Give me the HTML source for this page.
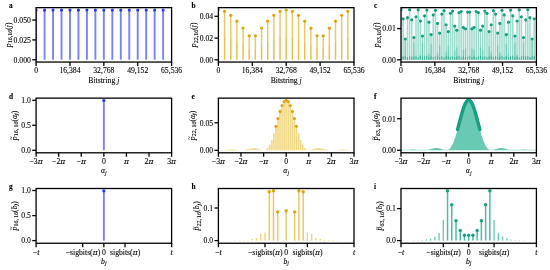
<!DOCTYPE html>
<html><head><meta charset="utf-8"><title>Figure</title>
<style>html,body{margin:0;padding:0;background:#fff;}svg{display:block}text{stroke:#000;stroke-width:0.1px}</style>
</head><body><svg width="550" height="270" viewBox="0 0 550 270" font-family="'Liberation Serif', serif" font-size="7.7" fill="#000">
<line x1="36.10" y1="62.05" x2="36.10" y2="66.00" stroke="#000" stroke-width="1.3"/>
<text x="36.10" y="73.35" text-anchor="middle">0</text>
<line x1="69.97" y1="62.05" x2="69.97" y2="66.00" stroke="#000" stroke-width="1.3"/>
<text x="69.97" y="73.35" text-anchor="middle">16,384</text>
<line x1="103.85" y1="62.05" x2="103.85" y2="66.00" stroke="#000" stroke-width="1.3"/>
<text x="103.85" y="73.35" text-anchor="middle">32,768</text>
<line x1="137.72" y1="62.05" x2="137.72" y2="66.00" stroke="#000" stroke-width="1.3"/>
<text x="137.72" y="73.35" text-anchor="middle">49,152</text>
<line x1="171.60" y1="62.05" x2="171.60" y2="66.00" stroke="#000" stroke-width="1.3"/>
<text x="171.60" y="73.35" text-anchor="middle">65,536</text>
<text x="103.85" y="82.65" text-anchor="middle">Bitstring <tspan font-style="italic">j</tspan></text>
<text x="9.10" y="8.05" font-weight="bold" font-size="7.4">a</text>
<line x1="218.40" y1="62.05" x2="218.40" y2="66.00" stroke="#000" stroke-width="1.3"/>
<text x="218.40" y="73.35" text-anchor="middle">0</text>
<line x1="252.30" y1="62.05" x2="252.30" y2="66.00" stroke="#000" stroke-width="1.3"/>
<text x="252.30" y="73.35" text-anchor="middle">16,384</text>
<line x1="286.20" y1="62.05" x2="286.20" y2="66.00" stroke="#000" stroke-width="1.3"/>
<text x="286.20" y="73.35" text-anchor="middle">32,768</text>
<line x1="320.10" y1="62.05" x2="320.10" y2="66.00" stroke="#000" stroke-width="1.3"/>
<text x="320.10" y="73.35" text-anchor="middle">49,152</text>
<line x1="354.00" y1="62.05" x2="354.00" y2="66.00" stroke="#000" stroke-width="1.3"/>
<text x="354.00" y="73.35" text-anchor="middle">65,536</text>
<text x="286.20" y="82.65" text-anchor="middle">Bitstring <tspan font-style="italic">j</tspan></text>
<text x="191.40" y="8.05" font-weight="bold" font-size="7.4">b</text>
<line x1="401.00" y1="62.05" x2="401.00" y2="66.00" stroke="#000" stroke-width="1.3"/>
<text x="401.00" y="73.35" text-anchor="middle">0</text>
<line x1="434.85" y1="62.05" x2="434.85" y2="66.00" stroke="#000" stroke-width="1.3"/>
<text x="434.85" y="73.35" text-anchor="middle">16,384</text>
<line x1="468.70" y1="62.05" x2="468.70" y2="66.00" stroke="#000" stroke-width="1.3"/>
<text x="468.70" y="73.35" text-anchor="middle">32,768</text>
<line x1="502.55" y1="62.05" x2="502.55" y2="66.00" stroke="#000" stroke-width="1.3"/>
<text x="502.55" y="73.35" text-anchor="middle">49,152</text>
<line x1="536.40" y1="62.05" x2="536.40" y2="66.00" stroke="#000" stroke-width="1.3"/>
<text x="536.40" y="73.35" text-anchor="middle">65,536</text>
<text x="468.70" y="82.65" text-anchor="middle">Bitstring <tspan font-style="italic">j</tspan></text>
<text x="374.00" y="8.05" font-weight="bold" font-size="7.4">c</text>
<clipPath id="ca"><rect x="36.1" y="7.65" width="135.5" height="54.4"/></clipPath><g clip-path="url(#ca)">
<line x1="36.10" y1="10.10" x2="36.10" y2="59.80" stroke="#7a82f8" stroke-width="1.9" stroke-opacity="1.0"/>
<line x1="44.57" y1="10.10" x2="44.57" y2="59.80" stroke="#7a82f8" stroke-width="1.9" stroke-opacity="1.0"/>
<line x1="53.04" y1="10.10" x2="53.04" y2="59.80" stroke="#7a82f8" stroke-width="1.9" stroke-opacity="1.0"/>
<line x1="61.51" y1="10.10" x2="61.51" y2="59.80" stroke="#7a82f8" stroke-width="1.9" stroke-opacity="1.0"/>
<line x1="69.97" y1="10.10" x2="69.97" y2="59.80" stroke="#7a82f8" stroke-width="1.9" stroke-opacity="1.0"/>
<line x1="78.44" y1="10.10" x2="78.44" y2="59.80" stroke="#7a82f8" stroke-width="1.9" stroke-opacity="1.0"/>
<line x1="86.91" y1="10.10" x2="86.91" y2="59.80" stroke="#7a82f8" stroke-width="1.9" stroke-opacity="1.0"/>
<line x1="95.38" y1="10.10" x2="95.38" y2="59.80" stroke="#7a82f8" stroke-width="1.9" stroke-opacity="1.0"/>
<line x1="103.85" y1="10.10" x2="103.85" y2="59.80" stroke="#7a82f8" stroke-width="1.9" stroke-opacity="1.0"/>
<line x1="112.32" y1="10.10" x2="112.32" y2="59.80" stroke="#7a82f8" stroke-width="1.9" stroke-opacity="1.0"/>
<line x1="120.79" y1="10.10" x2="120.79" y2="59.80" stroke="#7a82f8" stroke-width="1.9" stroke-opacity="1.0"/>
<line x1="129.26" y1="10.10" x2="129.26" y2="59.80" stroke="#7a82f8" stroke-width="1.9" stroke-opacity="1.0"/>
<line x1="137.72" y1="10.10" x2="137.72" y2="59.80" stroke="#7a82f8" stroke-width="1.9" stroke-opacity="1.0"/>
<line x1="146.19" y1="10.10" x2="146.19" y2="59.80" stroke="#7a82f8" stroke-width="1.9" stroke-opacity="1.0"/>
<line x1="154.66" y1="10.10" x2="154.66" y2="59.80" stroke="#7a82f8" stroke-width="1.9" stroke-opacity="1.0"/>
<line x1="163.13" y1="10.10" x2="163.13" y2="59.80" stroke="#7a82f8" stroke-width="1.9" stroke-opacity="1.0"/>
<circle cx="36.10" cy="10.10" r="1.55" fill="#2536f5"/>
<circle cx="44.57" cy="10.10" r="1.55" fill="#2536f5"/>
<circle cx="53.04" cy="10.10" r="1.55" fill="#2536f5"/>
<circle cx="61.51" cy="10.10" r="1.55" fill="#2536f5"/>
<circle cx="69.97" cy="10.10" r="1.55" fill="#2536f5"/>
<circle cx="78.44" cy="10.10" r="1.55" fill="#2536f5"/>
<circle cx="86.91" cy="10.10" r="1.55" fill="#2536f5"/>
<circle cx="95.38" cy="10.10" r="1.55" fill="#2536f5"/>
<circle cx="103.85" cy="10.10" r="1.55" fill="#2536f5"/>
<circle cx="112.32" cy="10.10" r="1.55" fill="#2536f5"/>
<circle cx="120.79" cy="10.10" r="1.55" fill="#2536f5"/>
<circle cx="129.26" cy="10.10" r="1.55" fill="#2536f5"/>
<circle cx="137.72" cy="10.10" r="1.55" fill="#2536f5"/>
<circle cx="146.19" cy="10.10" r="1.55" fill="#2536f5"/>
<circle cx="154.66" cy="10.10" r="1.55" fill="#2536f5"/>
<circle cx="163.13" cy="10.10" r="1.55" fill="#2536f5"/>
</g>
<line x1="32.20" y1="59.80" x2="36.1" y2="59.80" stroke="#000" stroke-width="1.3"/>
<text x="30.90" y="62.60" text-anchor="end">0.000</text>
<line x1="32.20" y1="39.92" x2="36.1" y2="39.92" stroke="#000" stroke-width="1.3"/>
<text x="30.90" y="42.72" text-anchor="end">0.025</text>
<line x1="32.20" y1="20.04" x2="36.1" y2="20.04" stroke="#000" stroke-width="1.3"/>
<text x="30.90" y="22.84" text-anchor="end">0.050</text>
<text transform="translate(10.60,34.85) rotate(-90)" text-anchor="middle"><tspan font-style="italic">p</tspan><tspan font-size="6.0" dy="1.6">16,16</tspan><tspan dy="-1.6">(<tspan font-style="italic">j</tspan>)</tspan></text>
<clipPath id="cb"><rect x="218.4" y="7.65" width="135.6" height="54.4"/></clipPath><g clip-path="url(#cb)">
<line x1="218.40" y1="9.50" x2="218.40" y2="59.80" stroke="#ebc861" stroke-width="1.45" stroke-opacity="1.0"/>
<line x1="218.40" y1="37.16" x2="218.40" y2="59.80" stroke="#dba514" stroke-width="1.3" stroke-opacity="0.25"/>
<line x1="224.56" y1="11.30" x2="224.56" y2="59.80" stroke="#ebc861" stroke-width="1.45" stroke-opacity="1.0"/>
<line x1="224.56" y1="37.97" x2="224.56" y2="59.80" stroke="#dba514" stroke-width="1.3" stroke-opacity="0.25"/>
<line x1="230.73" y1="15.30" x2="230.73" y2="59.80" stroke="#ebc861" stroke-width="1.45" stroke-opacity="1.0"/>
<line x1="230.73" y1="39.77" x2="230.73" y2="59.80" stroke="#dba514" stroke-width="1.3" stroke-opacity="0.25"/>
<line x1="236.89" y1="21.20" x2="236.89" y2="59.80" stroke="#ebc861" stroke-width="1.45" stroke-opacity="1.0"/>
<line x1="236.89" y1="42.43" x2="236.89" y2="59.80" stroke="#dba514" stroke-width="1.3" stroke-opacity="0.25"/>
<line x1="243.05" y1="28.00" x2="243.05" y2="59.80" stroke="#ebc861" stroke-width="1.45" stroke-opacity="1.0"/>
<line x1="243.05" y1="45.49" x2="243.05" y2="59.80" stroke="#dba514" stroke-width="1.3" stroke-opacity="0.25"/>
<line x1="249.22" y1="35.80" x2="249.22" y2="59.80" stroke="#ebc861" stroke-width="1.45" stroke-opacity="1.0"/>
<line x1="249.22" y1="49.00" x2="249.22" y2="59.80" stroke="#dba514" stroke-width="1.3" stroke-opacity="0.25"/>
<line x1="255.38" y1="35.80" x2="255.38" y2="59.80" stroke="#ebc861" stroke-width="1.45" stroke-opacity="1.0"/>
<line x1="255.38" y1="49.00" x2="255.38" y2="59.80" stroke="#dba514" stroke-width="1.3" stroke-opacity="0.25"/>
<line x1="261.55" y1="28.00" x2="261.55" y2="59.80" stroke="#ebc861" stroke-width="1.45" stroke-opacity="1.0"/>
<line x1="261.55" y1="45.49" x2="261.55" y2="59.80" stroke="#dba514" stroke-width="1.3" stroke-opacity="0.25"/>
<line x1="267.71" y1="21.20" x2="267.71" y2="59.80" stroke="#ebc861" stroke-width="1.45" stroke-opacity="1.0"/>
<line x1="267.71" y1="42.43" x2="267.71" y2="59.80" stroke="#dba514" stroke-width="1.3" stroke-opacity="0.25"/>
<line x1="273.87" y1="15.30" x2="273.87" y2="59.80" stroke="#ebc861" stroke-width="1.45" stroke-opacity="1.0"/>
<line x1="273.87" y1="39.77" x2="273.87" y2="59.80" stroke="#dba514" stroke-width="1.3" stroke-opacity="0.25"/>
<line x1="280.04" y1="11.30" x2="280.04" y2="59.80" stroke="#ebc861" stroke-width="1.45" stroke-opacity="1.0"/>
<line x1="280.04" y1="37.97" x2="280.04" y2="59.80" stroke="#dba514" stroke-width="1.3" stroke-opacity="0.25"/>
<line x1="286.20" y1="10.00" x2="286.20" y2="59.80" stroke="#ebc861" stroke-width="1.45" stroke-opacity="1.0"/>
<line x1="286.20" y1="37.39" x2="286.20" y2="59.80" stroke="#dba514" stroke-width="1.3" stroke-opacity="0.25"/>
<line x1="292.36" y1="11.30" x2="292.36" y2="59.80" stroke="#ebc861" stroke-width="1.45" stroke-opacity="1.0"/>
<line x1="292.36" y1="37.97" x2="292.36" y2="59.80" stroke="#dba514" stroke-width="1.3" stroke-opacity="0.25"/>
<line x1="298.53" y1="15.30" x2="298.53" y2="59.80" stroke="#ebc861" stroke-width="1.45" stroke-opacity="1.0"/>
<line x1="298.53" y1="39.77" x2="298.53" y2="59.80" stroke="#dba514" stroke-width="1.3" stroke-opacity="0.25"/>
<line x1="304.69" y1="21.20" x2="304.69" y2="59.80" stroke="#ebc861" stroke-width="1.45" stroke-opacity="1.0"/>
<line x1="304.69" y1="42.43" x2="304.69" y2="59.80" stroke="#dba514" stroke-width="1.3" stroke-opacity="0.25"/>
<line x1="310.85" y1="28.20" x2="310.85" y2="59.80" stroke="#ebc861" stroke-width="1.45" stroke-opacity="1.0"/>
<line x1="310.85" y1="45.58" x2="310.85" y2="59.80" stroke="#dba514" stroke-width="1.3" stroke-opacity="0.25"/>
<line x1="317.02" y1="35.80" x2="317.02" y2="59.80" stroke="#ebc861" stroke-width="1.45" stroke-opacity="1.0"/>
<line x1="317.02" y1="49.00" x2="317.02" y2="59.80" stroke="#dba514" stroke-width="1.3" stroke-opacity="0.25"/>
<line x1="323.18" y1="35.80" x2="323.18" y2="59.80" stroke="#ebc861" stroke-width="1.45" stroke-opacity="1.0"/>
<line x1="323.18" y1="49.00" x2="323.18" y2="59.80" stroke="#dba514" stroke-width="1.3" stroke-opacity="0.25"/>
<line x1="329.35" y1="28.20" x2="329.35" y2="59.80" stroke="#ebc861" stroke-width="1.45" stroke-opacity="1.0"/>
<line x1="329.35" y1="45.58" x2="329.35" y2="59.80" stroke="#dba514" stroke-width="1.3" stroke-opacity="0.25"/>
<line x1="335.51" y1="21.20" x2="335.51" y2="59.80" stroke="#ebc861" stroke-width="1.45" stroke-opacity="1.0"/>
<line x1="335.51" y1="42.43" x2="335.51" y2="59.80" stroke="#dba514" stroke-width="1.3" stroke-opacity="0.25"/>
<line x1="341.67" y1="15.30" x2="341.67" y2="59.80" stroke="#ebc861" stroke-width="1.45" stroke-opacity="1.0"/>
<line x1="341.67" y1="39.77" x2="341.67" y2="59.80" stroke="#dba514" stroke-width="1.3" stroke-opacity="0.25"/>
<line x1="347.84" y1="11.30" x2="347.84" y2="59.80" stroke="#ebc861" stroke-width="1.45" stroke-opacity="1.0"/>
<line x1="347.84" y1="37.97" x2="347.84" y2="59.80" stroke="#dba514" stroke-width="1.3" stroke-opacity="0.25"/>
<circle cx="218.40" cy="9.50" r="1.6" fill="#dba514"/>
<circle cx="224.56" cy="11.30" r="1.6" fill="#dba514"/>
<circle cx="230.73" cy="15.30" r="1.6" fill="#dba514"/>
<circle cx="236.89" cy="21.20" r="1.6" fill="#dba514"/>
<circle cx="243.05" cy="28.00" r="1.6" fill="#dba514"/>
<circle cx="249.22" cy="35.80" r="1.6" fill="#dba514"/>
<circle cx="255.38" cy="35.80" r="1.6" fill="#dba514"/>
<circle cx="261.55" cy="28.00" r="1.6" fill="#dba514"/>
<circle cx="267.71" cy="21.20" r="1.6" fill="#dba514"/>
<circle cx="273.87" cy="15.30" r="1.6" fill="#dba514"/>
<circle cx="280.04" cy="11.30" r="1.6" fill="#dba514"/>
<circle cx="286.20" cy="10.00" r="1.6" fill="#dba514"/>
<circle cx="292.36" cy="11.30" r="1.6" fill="#dba514"/>
<circle cx="298.53" cy="15.30" r="1.6" fill="#dba514"/>
<circle cx="304.69" cy="21.20" r="1.6" fill="#dba514"/>
<circle cx="310.85" cy="28.20" r="1.6" fill="#dba514"/>
<circle cx="317.02" cy="35.80" r="1.6" fill="#dba514"/>
<circle cx="323.18" cy="35.80" r="1.6" fill="#dba514"/>
<circle cx="329.35" cy="28.20" r="1.6" fill="#dba514"/>
<circle cx="335.51" cy="21.20" r="1.6" fill="#dba514"/>
<circle cx="341.67" cy="15.30" r="1.6" fill="#dba514"/>
<circle cx="347.84" cy="11.30" r="1.6" fill="#dba514"/>
</g>
<line x1="214.50" y1="59.80" x2="218.4" y2="59.80" stroke="#000" stroke-width="1.3"/>
<text x="213.20" y="62.60" text-anchor="end">0.00</text>
<line x1="214.50" y1="38.10" x2="218.4" y2="38.10" stroke="#000" stroke-width="1.3"/>
<text x="213.20" y="40.90" text-anchor="end">0.02</text>
<line x1="214.50" y1="16.30" x2="218.4" y2="16.30" stroke="#000" stroke-width="1.3"/>
<text x="213.20" y="19.10" text-anchor="end">0.04</text>
<text transform="translate(196.40,34.85) rotate(-90)" text-anchor="middle"><tspan font-style="italic">p</tspan><tspan font-size="6.0" dy="1.6">22,16</tspan><tspan dy="-1.6">(<tspan font-style="italic">j</tspan>)</tspan></text>
<clipPath id="cc"><rect x="401.0" y="7.65" width="135.39999999999998" height="54.4"/></clipPath><g clip-path="url(#cc)">
<line x1="401.00" y1="9.70" x2="401.00" y2="59.80" stroke="#93d9c8" stroke-width="1.55" stroke-opacity="0.9"/>
<line x1="403.15" y1="18.77" x2="403.15" y2="59.80" stroke="#93d9c8" stroke-width="1.55" stroke-opacity="0.9"/>
<line x1="405.30" y1="39.01" x2="405.30" y2="59.80" stroke="#93d9c8" stroke-width="1.55" stroke-opacity="0.9"/>
<line x1="407.45" y1="17.72" x2="407.45" y2="59.80" stroke="#93d9c8" stroke-width="1.55" stroke-opacity="0.9"/>
<line x1="409.60" y1="9.74" x2="409.60" y2="59.80" stroke="#93d9c8" stroke-width="1.55" stroke-opacity="0.9"/>
<line x1="411.75" y1="19.87" x2="411.75" y2="59.80" stroke="#93d9c8" stroke-width="1.55" stroke-opacity="0.9"/>
<line x1="413.90" y1="37.51" x2="413.90" y2="59.80" stroke="#93d9c8" stroke-width="1.55" stroke-opacity="0.9"/>
<line x1="416.04" y1="16.73" x2="416.04" y2="59.80" stroke="#93d9c8" stroke-width="1.55" stroke-opacity="0.9"/>
<line x1="418.19" y1="9.85" x2="418.19" y2="59.80" stroke="#93d9c8" stroke-width="1.55" stroke-opacity="0.9"/>
<line x1="420.34" y1="21.02" x2="420.34" y2="59.80" stroke="#93d9c8" stroke-width="1.55" stroke-opacity="0.9"/>
<line x1="422.49" y1="36.02" x2="422.49" y2="59.80" stroke="#93d9c8" stroke-width="1.55" stroke-opacity="0.9"/>
<line x1="424.64" y1="15.80" x2="424.64" y2="59.80" stroke="#93d9c8" stroke-width="1.55" stroke-opacity="0.9"/>
<line x1="426.79" y1="10.04" x2="426.79" y2="59.80" stroke="#93d9c8" stroke-width="1.55" stroke-opacity="0.9"/>
<line x1="428.94" y1="22.21" x2="428.94" y2="59.80" stroke="#93d9c8" stroke-width="1.55" stroke-opacity="0.9"/>
<line x1="431.09" y1="34.54" x2="431.09" y2="59.80" stroke="#93d9c8" stroke-width="1.55" stroke-opacity="0.9"/>
<line x1="433.24" y1="14.92" x2="433.24" y2="59.80" stroke="#93d9c8" stroke-width="1.55" stroke-opacity="0.9"/>
<line x1="435.39" y1="10.30" x2="435.39" y2="59.80" stroke="#93d9c8" stroke-width="1.55" stroke-opacity="0.9"/>
<line x1="437.54" y1="23.45" x2="437.54" y2="59.80" stroke="#93d9c8" stroke-width="1.55" stroke-opacity="0.9"/>
<line x1="439.69" y1="33.07" x2="439.69" y2="59.80" stroke="#93d9c8" stroke-width="1.55" stroke-opacity="0.9"/>
<line x1="441.83" y1="14.11" x2="441.83" y2="59.80" stroke="#93d9c8" stroke-width="1.55" stroke-opacity="0.9"/>
<line x1="443.98" y1="10.63" x2="443.98" y2="59.80" stroke="#93d9c8" stroke-width="1.55" stroke-opacity="0.9"/>
<line x1="446.13" y1="24.73" x2="446.13" y2="59.80" stroke="#93d9c8" stroke-width="1.55" stroke-opacity="0.9"/>
<line x1="448.28" y1="31.62" x2="448.28" y2="59.80" stroke="#93d9c8" stroke-width="1.55" stroke-opacity="0.9"/>
<line x1="450.43" y1="13.36" x2="450.43" y2="59.80" stroke="#93d9c8" stroke-width="1.55" stroke-opacity="0.9"/>
<line x1="452.58" y1="11.04" x2="452.58" y2="59.80" stroke="#93d9c8" stroke-width="1.55" stroke-opacity="0.9"/>
<line x1="454.73" y1="26.05" x2="454.73" y2="59.80" stroke="#93d9c8" stroke-width="1.55" stroke-opacity="0.9"/>
<line x1="456.88" y1="30.19" x2="456.88" y2="59.80" stroke="#93d9c8" stroke-width="1.55" stroke-opacity="0.9"/>
<line x1="459.03" y1="12.68" x2="459.03" y2="59.80" stroke="#93d9c8" stroke-width="1.55" stroke-opacity="0.9"/>
<line x1="461.18" y1="11.51" x2="461.18" y2="59.80" stroke="#93d9c8" stroke-width="1.55" stroke-opacity="0.9"/>
<line x1="463.33" y1="27.40" x2="463.33" y2="59.80" stroke="#93d9c8" stroke-width="1.55" stroke-opacity="0.9"/>
<line x1="465.48" y1="28.78" x2="465.48" y2="59.80" stroke="#93d9c8" stroke-width="1.55" stroke-opacity="0.9"/>
<line x1="467.63" y1="12.06" x2="467.63" y2="59.80" stroke="#93d9c8" stroke-width="1.55" stroke-opacity="0.9"/>
<line x1="469.77" y1="12.06" x2="469.77" y2="59.80" stroke="#93d9c8" stroke-width="1.55" stroke-opacity="0.9"/>
<line x1="471.92" y1="28.78" x2="471.92" y2="59.80" stroke="#93d9c8" stroke-width="1.55" stroke-opacity="0.9"/>
<line x1="474.07" y1="27.40" x2="474.07" y2="59.80" stroke="#93d9c8" stroke-width="1.55" stroke-opacity="0.9"/>
<line x1="476.22" y1="11.51" x2="476.22" y2="59.80" stroke="#93d9c8" stroke-width="1.55" stroke-opacity="0.9"/>
<line x1="478.37" y1="12.68" x2="478.37" y2="59.80" stroke="#93d9c8" stroke-width="1.55" stroke-opacity="0.9"/>
<line x1="480.52" y1="30.19" x2="480.52" y2="59.80" stroke="#93d9c8" stroke-width="1.55" stroke-opacity="0.9"/>
<line x1="482.67" y1="26.05" x2="482.67" y2="59.80" stroke="#93d9c8" stroke-width="1.55" stroke-opacity="0.9"/>
<line x1="484.82" y1="11.04" x2="484.82" y2="59.80" stroke="#93d9c8" stroke-width="1.55" stroke-opacity="0.9"/>
<line x1="486.97" y1="13.36" x2="486.97" y2="59.80" stroke="#93d9c8" stroke-width="1.55" stroke-opacity="0.9"/>
<line x1="489.12" y1="31.62" x2="489.12" y2="59.80" stroke="#93d9c8" stroke-width="1.55" stroke-opacity="0.9"/>
<line x1="491.27" y1="24.73" x2="491.27" y2="59.80" stroke="#93d9c8" stroke-width="1.55" stroke-opacity="0.9"/>
<line x1="493.42" y1="10.63" x2="493.42" y2="59.80" stroke="#93d9c8" stroke-width="1.55" stroke-opacity="0.9"/>
<line x1="495.57" y1="14.11" x2="495.57" y2="59.80" stroke="#93d9c8" stroke-width="1.55" stroke-opacity="0.9"/>
<line x1="497.71" y1="33.07" x2="497.71" y2="59.80" stroke="#93d9c8" stroke-width="1.55" stroke-opacity="0.9"/>
<line x1="499.86" y1="23.45" x2="499.86" y2="59.80" stroke="#93d9c8" stroke-width="1.55" stroke-opacity="0.9"/>
<line x1="502.01" y1="10.30" x2="502.01" y2="59.80" stroke="#93d9c8" stroke-width="1.55" stroke-opacity="0.9"/>
<line x1="504.16" y1="14.92" x2="504.16" y2="59.80" stroke="#93d9c8" stroke-width="1.55" stroke-opacity="0.9"/>
<line x1="506.31" y1="34.54" x2="506.31" y2="59.80" stroke="#93d9c8" stroke-width="1.55" stroke-opacity="0.9"/>
<line x1="508.46" y1="22.21" x2="508.46" y2="59.80" stroke="#93d9c8" stroke-width="1.55" stroke-opacity="0.9"/>
<line x1="510.61" y1="10.04" x2="510.61" y2="59.80" stroke="#93d9c8" stroke-width="1.55" stroke-opacity="0.9"/>
<line x1="512.76" y1="15.80" x2="512.76" y2="59.80" stroke="#93d9c8" stroke-width="1.55" stroke-opacity="0.9"/>
<line x1="514.91" y1="36.02" x2="514.91" y2="59.80" stroke="#93d9c8" stroke-width="1.55" stroke-opacity="0.9"/>
<line x1="517.06" y1="21.02" x2="517.06" y2="59.80" stroke="#93d9c8" stroke-width="1.55" stroke-opacity="0.9"/>
<line x1="519.21" y1="9.85" x2="519.21" y2="59.80" stroke="#93d9c8" stroke-width="1.55" stroke-opacity="0.9"/>
<line x1="521.36" y1="16.73" x2="521.36" y2="59.80" stroke="#93d9c8" stroke-width="1.55" stroke-opacity="0.9"/>
<line x1="523.50" y1="37.51" x2="523.50" y2="59.80" stroke="#93d9c8" stroke-width="1.55" stroke-opacity="0.9"/>
<line x1="525.65" y1="19.87" x2="525.65" y2="59.80" stroke="#93d9c8" stroke-width="1.55" stroke-opacity="0.9"/>
<line x1="527.80" y1="9.74" x2="527.80" y2="59.80" stroke="#93d9c8" stroke-width="1.55" stroke-opacity="0.9"/>
<line x1="529.95" y1="17.72" x2="529.95" y2="59.80" stroke="#93d9c8" stroke-width="1.55" stroke-opacity="0.9"/>
<line x1="532.10" y1="39.01" x2="532.10" y2="59.80" stroke="#93d9c8" stroke-width="1.55" stroke-opacity="0.9"/>
<line x1="534.25" y1="18.77" x2="534.25" y2="59.80" stroke="#93d9c8" stroke-width="1.55" stroke-opacity="0.9"/>
<line x1="401.00" y1="57.29" x2="401.00" y2="59.80" stroke="#2aa98b" stroke-width="1.2" stroke-opacity="0.75"/>
<line x1="403.15" y1="56.74" x2="403.15" y2="59.80" stroke="#4dbfa5" stroke-width="1.2" stroke-opacity="0.6"/>
<line x1="403.15" y1="56.54" x2="403.15" y2="59.80" stroke="#2aa98b" stroke-width="1.2" stroke-opacity="0.75"/>
<line x1="405.30" y1="41.28" x2="405.30" y2="59.80" stroke="#4dbfa5" stroke-width="1.2" stroke-opacity="0.6"/>
<line x1="405.30" y1="55.79" x2="405.30" y2="59.80" stroke="#2aa98b" stroke-width="1.2" stroke-opacity="0.75"/>
<line x1="407.45" y1="57.77" x2="407.45" y2="59.80" stroke="#4dbfa5" stroke-width="1.2" stroke-opacity="0.6"/>
<line x1="407.45" y1="56.92" x2="407.45" y2="59.80" stroke="#2aa98b" stroke-width="1.2" stroke-opacity="0.75"/>
<line x1="409.60" y1="56.17" x2="409.60" y2="59.80" stroke="#2aa98b" stroke-width="1.2" stroke-opacity="0.75"/>
<line x1="411.75" y1="55.71" x2="411.75" y2="59.80" stroke="#4dbfa5" stroke-width="1.2" stroke-opacity="0.6"/>
<line x1="411.75" y1="57.29" x2="411.75" y2="59.80" stroke="#2aa98b" stroke-width="1.2" stroke-opacity="0.75"/>
<line x1="413.90" y1="42.31" x2="413.90" y2="59.80" stroke="#4dbfa5" stroke-width="1.2" stroke-opacity="0.6"/>
<line x1="413.90" y1="56.54" x2="413.90" y2="59.80" stroke="#2aa98b" stroke-width="1.2" stroke-opacity="0.75"/>
<line x1="416.04" y1="58.80" x2="416.04" y2="59.80" stroke="#4dbfa5" stroke-width="1.2" stroke-opacity="0.6"/>
<line x1="416.04" y1="55.79" x2="416.04" y2="59.80" stroke="#2aa98b" stroke-width="1.2" stroke-opacity="0.75"/>
<line x1="418.19" y1="56.92" x2="418.19" y2="59.80" stroke="#2aa98b" stroke-width="1.2" stroke-opacity="0.75"/>
<line x1="420.34" y1="54.68" x2="420.34" y2="59.80" stroke="#4dbfa5" stroke-width="1.2" stroke-opacity="0.6"/>
<line x1="420.34" y1="56.17" x2="420.34" y2="59.80" stroke="#2aa98b" stroke-width="1.2" stroke-opacity="0.75"/>
<line x1="422.49" y1="43.34" x2="422.49" y2="59.80" stroke="#4dbfa5" stroke-width="1.2" stroke-opacity="0.6"/>
<line x1="422.49" y1="57.29" x2="422.49" y2="59.80" stroke="#2aa98b" stroke-width="1.2" stroke-opacity="0.75"/>
<line x1="424.64" y1="56.54" x2="424.64" y2="59.80" stroke="#2aa98b" stroke-width="1.2" stroke-opacity="0.75"/>
<line x1="426.79" y1="55.79" x2="426.79" y2="59.80" stroke="#2aa98b" stroke-width="1.2" stroke-opacity="0.75"/>
<line x1="428.94" y1="53.64" x2="428.94" y2="59.80" stroke="#4dbfa5" stroke-width="1.2" stroke-opacity="0.6"/>
<line x1="428.94" y1="56.92" x2="428.94" y2="59.80" stroke="#2aa98b" stroke-width="1.2" stroke-opacity="0.75"/>
<line x1="431.09" y1="44.37" x2="431.09" y2="59.80" stroke="#4dbfa5" stroke-width="1.2" stroke-opacity="0.6"/>
<line x1="431.09" y1="56.17" x2="431.09" y2="59.80" stroke="#2aa98b" stroke-width="1.2" stroke-opacity="0.75"/>
<line x1="433.24" y1="57.29" x2="433.24" y2="59.80" stroke="#2aa98b" stroke-width="1.2" stroke-opacity="0.75"/>
<line x1="435.39" y1="56.54" x2="435.39" y2="59.80" stroke="#2aa98b" stroke-width="1.2" stroke-opacity="0.75"/>
<line x1="437.54" y1="52.61" x2="437.54" y2="59.80" stroke="#4dbfa5" stroke-width="1.2" stroke-opacity="0.6"/>
<line x1="437.54" y1="55.79" x2="437.54" y2="59.80" stroke="#2aa98b" stroke-width="1.2" stroke-opacity="0.75"/>
<line x1="439.69" y1="45.40" x2="439.69" y2="59.80" stroke="#4dbfa5" stroke-width="1.2" stroke-opacity="0.6"/>
<line x1="439.69" y1="56.92" x2="439.69" y2="59.80" stroke="#2aa98b" stroke-width="1.2" stroke-opacity="0.75"/>
<line x1="441.83" y1="56.17" x2="441.83" y2="59.80" stroke="#2aa98b" stroke-width="1.2" stroke-opacity="0.75"/>
<line x1="443.98" y1="57.29" x2="443.98" y2="59.80" stroke="#2aa98b" stroke-width="1.2" stroke-opacity="0.75"/>
<line x1="446.13" y1="51.58" x2="446.13" y2="59.80" stroke="#4dbfa5" stroke-width="1.2" stroke-opacity="0.6"/>
<line x1="446.13" y1="56.54" x2="446.13" y2="59.80" stroke="#2aa98b" stroke-width="1.2" stroke-opacity="0.75"/>
<line x1="448.28" y1="46.43" x2="448.28" y2="59.80" stroke="#4dbfa5" stroke-width="1.2" stroke-opacity="0.6"/>
<line x1="448.28" y1="55.79" x2="448.28" y2="59.80" stroke="#2aa98b" stroke-width="1.2" stroke-opacity="0.75"/>
<line x1="450.43" y1="56.92" x2="450.43" y2="59.80" stroke="#2aa98b" stroke-width="1.2" stroke-opacity="0.75"/>
<line x1="452.58" y1="56.17" x2="452.58" y2="59.80" stroke="#2aa98b" stroke-width="1.2" stroke-opacity="0.75"/>
<line x1="454.73" y1="50.55" x2="454.73" y2="59.80" stroke="#4dbfa5" stroke-width="1.2" stroke-opacity="0.6"/>
<line x1="454.73" y1="57.29" x2="454.73" y2="59.80" stroke="#2aa98b" stroke-width="1.2" stroke-opacity="0.75"/>
<line x1="456.88" y1="47.46" x2="456.88" y2="59.80" stroke="#4dbfa5" stroke-width="1.2" stroke-opacity="0.6"/>
<line x1="456.88" y1="56.54" x2="456.88" y2="59.80" stroke="#2aa98b" stroke-width="1.2" stroke-opacity="0.75"/>
<line x1="459.03" y1="55.79" x2="459.03" y2="59.80" stroke="#2aa98b" stroke-width="1.2" stroke-opacity="0.75"/>
<line x1="461.18" y1="56.92" x2="461.18" y2="59.80" stroke="#2aa98b" stroke-width="1.2" stroke-opacity="0.75"/>
<line x1="463.33" y1="49.52" x2="463.33" y2="59.80" stroke="#4dbfa5" stroke-width="1.2" stroke-opacity="0.6"/>
<line x1="463.33" y1="56.17" x2="463.33" y2="59.80" stroke="#2aa98b" stroke-width="1.2" stroke-opacity="0.75"/>
<line x1="465.48" y1="48.49" x2="465.48" y2="59.80" stroke="#4dbfa5" stroke-width="1.2" stroke-opacity="0.6"/>
<line x1="465.48" y1="57.29" x2="465.48" y2="59.80" stroke="#2aa98b" stroke-width="1.2" stroke-opacity="0.75"/>
<line x1="467.63" y1="56.54" x2="467.63" y2="59.80" stroke="#2aa98b" stroke-width="1.2" stroke-opacity="0.75"/>
<line x1="469.77" y1="55.79" x2="469.77" y2="59.80" stroke="#2aa98b" stroke-width="1.2" stroke-opacity="0.75"/>
<line x1="471.92" y1="48.49" x2="471.92" y2="59.80" stroke="#4dbfa5" stroke-width="1.2" stroke-opacity="0.6"/>
<line x1="471.92" y1="56.92" x2="471.92" y2="59.80" stroke="#2aa98b" stroke-width="1.2" stroke-opacity="0.75"/>
<line x1="474.07" y1="49.52" x2="474.07" y2="59.80" stroke="#4dbfa5" stroke-width="1.2" stroke-opacity="0.6"/>
<line x1="474.07" y1="56.17" x2="474.07" y2="59.80" stroke="#2aa98b" stroke-width="1.2" stroke-opacity="0.75"/>
<line x1="476.22" y1="57.29" x2="476.22" y2="59.80" stroke="#2aa98b" stroke-width="1.2" stroke-opacity="0.75"/>
<line x1="478.37" y1="56.54" x2="478.37" y2="59.80" stroke="#2aa98b" stroke-width="1.2" stroke-opacity="0.75"/>
<line x1="480.52" y1="47.46" x2="480.52" y2="59.80" stroke="#4dbfa5" stroke-width="1.2" stroke-opacity="0.6"/>
<line x1="480.52" y1="55.79" x2="480.52" y2="59.80" stroke="#2aa98b" stroke-width="1.2" stroke-opacity="0.75"/>
<line x1="482.67" y1="50.55" x2="482.67" y2="59.80" stroke="#4dbfa5" stroke-width="1.2" stroke-opacity="0.6"/>
<line x1="482.67" y1="56.92" x2="482.67" y2="59.80" stroke="#2aa98b" stroke-width="1.2" stroke-opacity="0.75"/>
<line x1="484.82" y1="56.17" x2="484.82" y2="59.80" stroke="#2aa98b" stroke-width="1.2" stroke-opacity="0.75"/>
<line x1="486.97" y1="57.29" x2="486.97" y2="59.80" stroke="#2aa98b" stroke-width="1.2" stroke-opacity="0.75"/>
<line x1="489.12" y1="46.43" x2="489.12" y2="59.80" stroke="#4dbfa5" stroke-width="1.2" stroke-opacity="0.6"/>
<line x1="489.12" y1="56.54" x2="489.12" y2="59.80" stroke="#2aa98b" stroke-width="1.2" stroke-opacity="0.75"/>
<line x1="491.27" y1="51.58" x2="491.27" y2="59.80" stroke="#4dbfa5" stroke-width="1.2" stroke-opacity="0.6"/>
<line x1="491.27" y1="55.79" x2="491.27" y2="59.80" stroke="#2aa98b" stroke-width="1.2" stroke-opacity="0.75"/>
<line x1="493.42" y1="56.92" x2="493.42" y2="59.80" stroke="#2aa98b" stroke-width="1.2" stroke-opacity="0.75"/>
<line x1="495.57" y1="56.17" x2="495.57" y2="59.80" stroke="#2aa98b" stroke-width="1.2" stroke-opacity="0.75"/>
<line x1="497.71" y1="45.40" x2="497.71" y2="59.80" stroke="#4dbfa5" stroke-width="1.2" stroke-opacity="0.6"/>
<line x1="497.71" y1="57.29" x2="497.71" y2="59.80" stroke="#2aa98b" stroke-width="1.2" stroke-opacity="0.75"/>
<line x1="499.86" y1="52.61" x2="499.86" y2="59.80" stroke="#4dbfa5" stroke-width="1.2" stroke-opacity="0.6"/>
<line x1="499.86" y1="56.54" x2="499.86" y2="59.80" stroke="#2aa98b" stroke-width="1.2" stroke-opacity="0.75"/>
<line x1="502.01" y1="55.79" x2="502.01" y2="59.80" stroke="#2aa98b" stroke-width="1.2" stroke-opacity="0.75"/>
<line x1="504.16" y1="56.92" x2="504.16" y2="59.80" stroke="#2aa98b" stroke-width="1.2" stroke-opacity="0.75"/>
<line x1="506.31" y1="44.37" x2="506.31" y2="59.80" stroke="#4dbfa5" stroke-width="1.2" stroke-opacity="0.6"/>
<line x1="506.31" y1="56.17" x2="506.31" y2="59.80" stroke="#2aa98b" stroke-width="1.2" stroke-opacity="0.75"/>
<line x1="508.46" y1="53.64" x2="508.46" y2="59.80" stroke="#4dbfa5" stroke-width="1.2" stroke-opacity="0.6"/>
<line x1="508.46" y1="57.29" x2="508.46" y2="59.80" stroke="#2aa98b" stroke-width="1.2" stroke-opacity="0.75"/>
<line x1="510.61" y1="56.54" x2="510.61" y2="59.80" stroke="#2aa98b" stroke-width="1.2" stroke-opacity="0.75"/>
<line x1="512.76" y1="55.79" x2="512.76" y2="59.80" stroke="#2aa98b" stroke-width="1.2" stroke-opacity="0.75"/>
<line x1="514.91" y1="43.34" x2="514.91" y2="59.80" stroke="#4dbfa5" stroke-width="1.2" stroke-opacity="0.6"/>
<line x1="514.91" y1="56.92" x2="514.91" y2="59.80" stroke="#2aa98b" stroke-width="1.2" stroke-opacity="0.75"/>
<line x1="517.06" y1="54.68" x2="517.06" y2="59.80" stroke="#4dbfa5" stroke-width="1.2" stroke-opacity="0.6"/>
<line x1="517.06" y1="56.17" x2="517.06" y2="59.80" stroke="#2aa98b" stroke-width="1.2" stroke-opacity="0.75"/>
<line x1="519.21" y1="57.29" x2="519.21" y2="59.80" stroke="#2aa98b" stroke-width="1.2" stroke-opacity="0.75"/>
<line x1="521.36" y1="58.80" x2="521.36" y2="59.80" stroke="#4dbfa5" stroke-width="1.2" stroke-opacity="0.6"/>
<line x1="521.36" y1="56.54" x2="521.36" y2="59.80" stroke="#2aa98b" stroke-width="1.2" stroke-opacity="0.75"/>
<line x1="523.50" y1="42.31" x2="523.50" y2="59.80" stroke="#4dbfa5" stroke-width="1.2" stroke-opacity="0.6"/>
<line x1="523.50" y1="55.79" x2="523.50" y2="59.80" stroke="#2aa98b" stroke-width="1.2" stroke-opacity="0.75"/>
<line x1="525.65" y1="55.71" x2="525.65" y2="59.80" stroke="#4dbfa5" stroke-width="1.2" stroke-opacity="0.6"/>
<line x1="525.65" y1="56.92" x2="525.65" y2="59.80" stroke="#2aa98b" stroke-width="1.2" stroke-opacity="0.75"/>
<line x1="527.80" y1="56.17" x2="527.80" y2="59.80" stroke="#2aa98b" stroke-width="1.2" stroke-opacity="0.75"/>
<line x1="529.95" y1="57.77" x2="529.95" y2="59.80" stroke="#4dbfa5" stroke-width="1.2" stroke-opacity="0.6"/>
<line x1="529.95" y1="57.29" x2="529.95" y2="59.80" stroke="#2aa98b" stroke-width="1.2" stroke-opacity="0.75"/>
<line x1="532.10" y1="41.28" x2="532.10" y2="59.80" stroke="#4dbfa5" stroke-width="1.2" stroke-opacity="0.6"/>
<line x1="532.10" y1="56.54" x2="532.10" y2="59.80" stroke="#2aa98b" stroke-width="1.2" stroke-opacity="0.75"/>
<line x1="534.25" y1="56.74" x2="534.25" y2="59.80" stroke="#4dbfa5" stroke-width="1.2" stroke-opacity="0.6"/>
<line x1="534.25" y1="55.79" x2="534.25" y2="59.80" stroke="#2aa98b" stroke-width="1.2" stroke-opacity="0.75"/>
<circle cx="401.00" cy="9.70" r="1.6" fill="#1a9e80"/>
<circle cx="403.15" cy="18.77" r="1.6" fill="#1a9e80"/>
<circle cx="405.30" cy="39.01" r="1.6" fill="#1a9e80"/>
<circle cx="407.45" cy="17.72" r="1.6" fill="#1a9e80"/>
<circle cx="409.60" cy="9.74" r="1.6" fill="#1a9e80"/>
<circle cx="411.75" cy="19.87" r="1.6" fill="#1a9e80"/>
<circle cx="413.90" cy="37.51" r="1.6" fill="#1a9e80"/>
<circle cx="416.04" cy="16.73" r="1.6" fill="#1a9e80"/>
<circle cx="418.19" cy="9.85" r="1.6" fill="#1a9e80"/>
<circle cx="420.34" cy="21.02" r="1.6" fill="#1a9e80"/>
<circle cx="422.49" cy="36.02" r="1.6" fill="#1a9e80"/>
<circle cx="424.64" cy="15.80" r="1.6" fill="#1a9e80"/>
<circle cx="426.79" cy="10.04" r="1.6" fill="#1a9e80"/>
<circle cx="428.94" cy="22.21" r="1.6" fill="#1a9e80"/>
<circle cx="431.09" cy="34.54" r="1.6" fill="#1a9e80"/>
<circle cx="433.24" cy="14.92" r="1.6" fill="#1a9e80"/>
<circle cx="435.39" cy="10.30" r="1.6" fill="#1a9e80"/>
<circle cx="437.54" cy="23.45" r="1.6" fill="#1a9e80"/>
<circle cx="439.69" cy="33.07" r="1.6" fill="#1a9e80"/>
<circle cx="441.83" cy="14.11" r="1.6" fill="#1a9e80"/>
<circle cx="443.98" cy="10.63" r="1.6" fill="#1a9e80"/>
<circle cx="446.13" cy="24.73" r="1.6" fill="#1a9e80"/>
<circle cx="448.28" cy="31.62" r="1.6" fill="#1a9e80"/>
<circle cx="450.43" cy="13.36" r="1.6" fill="#1a9e80"/>
<circle cx="452.58" cy="11.04" r="1.6" fill="#1a9e80"/>
<circle cx="454.73" cy="26.05" r="1.6" fill="#1a9e80"/>
<circle cx="456.88" cy="30.19" r="1.6" fill="#1a9e80"/>
<circle cx="459.03" cy="12.68" r="1.6" fill="#1a9e80"/>
<circle cx="461.18" cy="11.51" r="1.6" fill="#1a9e80"/>
<circle cx="463.33" cy="27.40" r="1.6" fill="#1a9e80"/>
<circle cx="465.48" cy="28.78" r="1.6" fill="#1a9e80"/>
<circle cx="467.63" cy="12.06" r="1.6" fill="#1a9e80"/>
<circle cx="469.77" cy="12.06" r="1.6" fill="#1a9e80"/>
<circle cx="471.92" cy="28.78" r="1.6" fill="#1a9e80"/>
<circle cx="474.07" cy="27.40" r="1.6" fill="#1a9e80"/>
<circle cx="476.22" cy="11.51" r="1.6" fill="#1a9e80"/>
<circle cx="478.37" cy="12.68" r="1.6" fill="#1a9e80"/>
<circle cx="480.52" cy="30.19" r="1.6" fill="#1a9e80"/>
<circle cx="482.67" cy="26.05" r="1.6" fill="#1a9e80"/>
<circle cx="484.82" cy="11.04" r="1.6" fill="#1a9e80"/>
<circle cx="486.97" cy="13.36" r="1.6" fill="#1a9e80"/>
<circle cx="489.12" cy="31.62" r="1.6" fill="#1a9e80"/>
<circle cx="491.27" cy="24.73" r="1.6" fill="#1a9e80"/>
<circle cx="493.42" cy="10.63" r="1.6" fill="#1a9e80"/>
<circle cx="495.57" cy="14.11" r="1.6" fill="#1a9e80"/>
<circle cx="497.71" cy="33.07" r="1.6" fill="#1a9e80"/>
<circle cx="499.86" cy="23.45" r="1.6" fill="#1a9e80"/>
<circle cx="502.01" cy="10.30" r="1.6" fill="#1a9e80"/>
<circle cx="504.16" cy="14.92" r="1.6" fill="#1a9e80"/>
<circle cx="506.31" cy="34.54" r="1.6" fill="#1a9e80"/>
<circle cx="508.46" cy="22.21" r="1.6" fill="#1a9e80"/>
<circle cx="510.61" cy="10.04" r="1.6" fill="#1a9e80"/>
<circle cx="512.76" cy="15.80" r="1.6" fill="#1a9e80"/>
<circle cx="514.91" cy="36.02" r="1.6" fill="#1a9e80"/>
<circle cx="517.06" cy="21.02" r="1.6" fill="#1a9e80"/>
<circle cx="519.21" cy="9.85" r="1.6" fill="#1a9e80"/>
<circle cx="521.36" cy="16.73" r="1.6" fill="#1a9e80"/>
<circle cx="523.50" cy="37.51" r="1.6" fill="#1a9e80"/>
<circle cx="525.65" cy="19.87" r="1.6" fill="#1a9e80"/>
<circle cx="527.80" cy="9.74" r="1.6" fill="#1a9e80"/>
<circle cx="529.95" cy="17.72" r="1.6" fill="#1a9e80"/>
<circle cx="532.10" cy="39.01" r="1.6" fill="#1a9e80"/>
<circle cx="534.25" cy="18.77" r="1.6" fill="#1a9e80"/>
</g>
<line x1="397.10" y1="59.80" x2="401.0" y2="59.80" stroke="#000" stroke-width="1.3"/>
<text x="395.80" y="62.60" text-anchor="end">0.00</text>
<line x1="397.10" y1="28.60" x2="401.0" y2="28.60" stroke="#000" stroke-width="1.3"/>
<text x="395.80" y="31.40" text-anchor="end">0.01</text>
<text transform="translate(379.40,34.85) rotate(-90)" text-anchor="middle"><tspan font-style="italic">p</tspan><tspan font-size="6.0" dy="1.6">63,16</tspan><tspan dy="-1.6">(<tspan font-style="italic">j</tspan>)</tspan></text>
<line x1="36.10" y1="152.8" x2="36.10" y2="156.75" stroke="#000" stroke-width="1.3"/>
<text x="36.10" y="164.10" text-anchor="middle">−3<tspan font-style="italic" font-family="DejaVu Serif, serif" font-size="7.6">π</tspan></text>
<line x1="58.68" y1="152.8" x2="58.68" y2="156.75" stroke="#000" stroke-width="1.3"/>
<text x="58.68" y="164.10" text-anchor="middle">−2<tspan font-style="italic" font-family="DejaVu Serif, serif" font-size="7.6">π</tspan></text>
<line x1="81.27" y1="152.8" x2="81.27" y2="156.75" stroke="#000" stroke-width="1.3"/>
<text x="81.27" y="164.10" text-anchor="middle">−<tspan font-style="italic" font-family="DejaVu Serif, serif" font-size="7.6">π</tspan></text>
<line x1="103.85" y1="152.8" x2="103.85" y2="156.75" stroke="#000" stroke-width="1.3"/>
<text x="103.85" y="164.10" text-anchor="middle">0</text>
<line x1="126.43" y1="152.8" x2="126.43" y2="156.75" stroke="#000" stroke-width="1.3"/>
<text x="126.43" y="164.10" text-anchor="middle"><tspan font-style="italic" font-family="DejaVu Serif, serif" font-size="7.6">π</tspan></text>
<line x1="149.02" y1="152.8" x2="149.02" y2="156.75" stroke="#000" stroke-width="1.3"/>
<text x="149.02" y="164.10" text-anchor="middle">2<tspan font-style="italic" font-family="DejaVu Serif, serif" font-size="7.6">π</tspan></text>
<line x1="171.60" y1="152.8" x2="171.60" y2="156.75" stroke="#000" stroke-width="1.3"/>
<text x="171.60" y="164.10" text-anchor="middle">3<tspan font-style="italic" font-family="DejaVu Serif, serif" font-size="7.6">π</tspan></text>
<text x="103.85" y="173.40" text-anchor="middle"><tspan font-style="italic">α</tspan><tspan font-style="italic" font-size="6.0" dy="1.6">j</tspan></text>
<text x="9.10" y="98.55" font-weight="bold" font-size="7.4">d</text>
<line x1="218.40" y1="152.8" x2="218.40" y2="156.75" stroke="#000" stroke-width="1.3"/>
<text x="218.40" y="164.10" text-anchor="middle">−3<tspan font-style="italic" font-family="DejaVu Serif, serif" font-size="7.6">π</tspan></text>
<line x1="241.00" y1="152.8" x2="241.00" y2="156.75" stroke="#000" stroke-width="1.3"/>
<text x="241.00" y="164.10" text-anchor="middle">−2<tspan font-style="italic" font-family="DejaVu Serif, serif" font-size="7.6">π</tspan></text>
<line x1="263.60" y1="152.8" x2="263.60" y2="156.75" stroke="#000" stroke-width="1.3"/>
<text x="263.60" y="164.10" text-anchor="middle">−<tspan font-style="italic" font-family="DejaVu Serif, serif" font-size="7.6">π</tspan></text>
<line x1="286.20" y1="152.8" x2="286.20" y2="156.75" stroke="#000" stroke-width="1.3"/>
<text x="286.20" y="164.10" text-anchor="middle">0</text>
<line x1="308.80" y1="152.8" x2="308.80" y2="156.75" stroke="#000" stroke-width="1.3"/>
<text x="308.80" y="164.10" text-anchor="middle"><tspan font-style="italic" font-family="DejaVu Serif, serif" font-size="7.6">π</tspan></text>
<line x1="331.40" y1="152.8" x2="331.40" y2="156.75" stroke="#000" stroke-width="1.3"/>
<text x="331.40" y="164.10" text-anchor="middle">2<tspan font-style="italic" font-family="DejaVu Serif, serif" font-size="7.6">π</tspan></text>
<line x1="354.00" y1="152.8" x2="354.00" y2="156.75" stroke="#000" stroke-width="1.3"/>
<text x="354.00" y="164.10" text-anchor="middle">3<tspan font-style="italic" font-family="DejaVu Serif, serif" font-size="7.6">π</tspan></text>
<text x="286.20" y="173.40" text-anchor="middle"><tspan font-style="italic">α</tspan><tspan font-style="italic" font-size="6.0" dy="1.6">j</tspan></text>
<text x="191.40" y="98.55" font-weight="bold" font-size="7.4">e</text>
<line x1="401.00" y1="152.8" x2="401.00" y2="156.75" stroke="#000" stroke-width="1.3"/>
<text x="401.00" y="164.10" text-anchor="middle">−3<tspan font-style="italic" font-family="DejaVu Serif, serif" font-size="7.6">π</tspan></text>
<line x1="423.57" y1="152.8" x2="423.57" y2="156.75" stroke="#000" stroke-width="1.3"/>
<text x="423.57" y="164.10" text-anchor="middle">−2<tspan font-style="italic" font-family="DejaVu Serif, serif" font-size="7.6">π</tspan></text>
<line x1="446.13" y1="152.8" x2="446.13" y2="156.75" stroke="#000" stroke-width="1.3"/>
<text x="446.13" y="164.10" text-anchor="middle">−<tspan font-style="italic" font-family="DejaVu Serif, serif" font-size="7.6">π</tspan></text>
<line x1="468.70" y1="152.8" x2="468.70" y2="156.75" stroke="#000" stroke-width="1.3"/>
<text x="468.70" y="164.10" text-anchor="middle">0</text>
<line x1="491.27" y1="152.8" x2="491.27" y2="156.75" stroke="#000" stroke-width="1.3"/>
<text x="491.27" y="164.10" text-anchor="middle"><tspan font-style="italic" font-family="DejaVu Serif, serif" font-size="7.6">π</tspan></text>
<line x1="513.83" y1="152.8" x2="513.83" y2="156.75" stroke="#000" stroke-width="1.3"/>
<text x="513.83" y="164.10" text-anchor="middle">2<tspan font-style="italic" font-family="DejaVu Serif, serif" font-size="7.6">π</tspan></text>
<line x1="536.40" y1="152.8" x2="536.40" y2="156.75" stroke="#000" stroke-width="1.3"/>
<text x="536.40" y="164.10" text-anchor="middle">3<tspan font-style="italic" font-family="DejaVu Serif, serif" font-size="7.6">π</tspan></text>
<text x="468.70" y="173.40" text-anchor="middle"><tspan font-style="italic">α</tspan><tspan font-style="italic" font-size="6.0" dy="1.6">j</tspan></text>
<text x="374.00" y="98.55" font-weight="bold" font-size="7.4">f</text>
<line x1="103.85" y1="100.50" x2="103.85" y2="150.30" stroke="#7a82f8" stroke-width="1.9" stroke-opacity="1.0"/>
<circle cx="103.85" cy="100.50" r="1.6" fill="#2536f5"/>
<line x1="32.20" y1="150.30" x2="36.1" y2="150.30" stroke="#000" stroke-width="1.3"/>
<text x="30.90" y="153.10" text-anchor="end">0.0</text>
<line x1="32.20" y1="125.30" x2="36.1" y2="125.30" stroke="#000" stroke-width="1.3"/>
<text x="30.90" y="128.10" text-anchor="end">0.5</text>
<line x1="32.20" y1="100.30" x2="36.1" y2="100.30" stroke="#000" stroke-width="1.3"/>
<text x="30.90" y="103.10" text-anchor="end">1.0</text>
<text transform="translate(16.80,125.48) rotate(-90)" text-anchor="middle"><tspan font-style="italic">p</tspan><tspan font-size="6" dx="-3.3" dy="-3.4">~</tspan><tspan font-size="6.0" dx="0.1" dy="5.0">16, 16</tspan><tspan dy="-1.6">(</tspan><tspan font-style="italic">α</tspan><tspan font-style="italic" font-size="6.0" dy="1.4">j</tspan><tspan dy="-1.4">​</tspan><tspan>)</tspan></text>
<clipPath id="ce"><rect x="218.4" y="98.15" width="135.6" height="54.650000000000006"/></clipPath><g clip-path="url(#ce)">
<line x1="222.51" y1="150.11" x2="222.51" y2="150.30" stroke="#f8e8b2" stroke-width="2.1" stroke-opacity="1"/>
<line x1="222.51" y1="150.11" x2="222.51" y2="150.30" stroke="#f2d987" stroke-width="1.15" stroke-opacity="1"/>
<line x1="224.56" y1="149.91" x2="224.56" y2="150.30" stroke="#f8e8b2" stroke-width="2.1" stroke-opacity="1"/>
<line x1="224.56" y1="149.91" x2="224.56" y2="150.30" stroke="#f2d987" stroke-width="1.15" stroke-opacity="1"/>
<line x1="226.62" y1="149.70" x2="226.62" y2="150.30" stroke="#f8e8b2" stroke-width="2.1" stroke-opacity="1"/>
<line x1="226.62" y1="149.70" x2="226.62" y2="150.30" stroke="#f2d987" stroke-width="1.15" stroke-opacity="1"/>
<line x1="228.67" y1="149.53" x2="228.67" y2="150.30" stroke="#f8e8b2" stroke-width="2.1" stroke-opacity="1"/>
<line x1="228.67" y1="149.53" x2="228.67" y2="150.30" stroke="#f2d987" stroke-width="1.15" stroke-opacity="1"/>
<line x1="230.73" y1="149.48" x2="230.73" y2="150.30" stroke="#f8e8b2" stroke-width="2.1" stroke-opacity="1"/>
<line x1="230.73" y1="149.48" x2="230.73" y2="150.30" stroke="#f2d987" stroke-width="1.15" stroke-opacity="1"/>
<line x1="232.78" y1="149.55" x2="232.78" y2="150.30" stroke="#f8e8b2" stroke-width="2.1" stroke-opacity="1"/>
<line x1="232.78" y1="149.55" x2="232.78" y2="150.30" stroke="#f2d987" stroke-width="1.15" stroke-opacity="1"/>
<line x1="234.84" y1="149.74" x2="234.84" y2="150.30" stroke="#f8e8b2" stroke-width="2.1" stroke-opacity="1"/>
<line x1="234.84" y1="149.74" x2="234.84" y2="150.30" stroke="#f2d987" stroke-width="1.15" stroke-opacity="1"/>
<line x1="236.89" y1="149.99" x2="236.89" y2="150.30" stroke="#f8e8b2" stroke-width="2.1" stroke-opacity="1"/>
<line x1="236.89" y1="149.99" x2="236.89" y2="150.30" stroke="#f2d987" stroke-width="1.15" stroke-opacity="1"/>
<line x1="245.11" y1="149.85" x2="245.11" y2="150.30" stroke="#f8e8b2" stroke-width="2.1" stroke-opacity="1"/>
<line x1="245.11" y1="149.85" x2="245.11" y2="150.30" stroke="#f2d987" stroke-width="1.15" stroke-opacity="1"/>
<line x1="247.16" y1="149.33" x2="247.16" y2="150.30" stroke="#f8e8b2" stroke-width="2.1" stroke-opacity="1"/>
<line x1="247.16" y1="149.33" x2="247.16" y2="150.30" stroke="#f2d987" stroke-width="1.15" stroke-opacity="1"/>
<line x1="249.22" y1="148.73" x2="249.22" y2="150.30" stroke="#f8e8b2" stroke-width="2.1" stroke-opacity="1"/>
<line x1="249.22" y1="148.73" x2="249.22" y2="150.30" stroke="#f2d987" stroke-width="1.15" stroke-opacity="1"/>
<line x1="251.27" y1="148.22" x2="251.27" y2="150.30" stroke="#f8e8b2" stroke-width="2.1" stroke-opacity="1"/>
<line x1="251.27" y1="148.22" x2="251.27" y2="150.30" stroke="#f2d987" stroke-width="1.15" stroke-opacity="1"/>
<line x1="253.33" y1="147.95" x2="253.33" y2="150.30" stroke="#f8e8b2" stroke-width="2.1" stroke-opacity="1"/>
<line x1="253.33" y1="147.95" x2="253.33" y2="150.30" stroke="#f2d987" stroke-width="1.15" stroke-opacity="1"/>
<line x1="255.38" y1="148.05" x2="255.38" y2="150.30" stroke="#f8e8b2" stroke-width="2.1" stroke-opacity="1"/>
<line x1="255.38" y1="148.05" x2="255.38" y2="150.30" stroke="#f2d987" stroke-width="1.15" stroke-opacity="1"/>
<line x1="257.44" y1="148.51" x2="257.44" y2="150.30" stroke="#f8e8b2" stroke-width="2.1" stroke-opacity="1"/>
<line x1="257.44" y1="148.51" x2="257.44" y2="150.30" stroke="#f2d987" stroke-width="1.15" stroke-opacity="1"/>
<line x1="259.49" y1="149.24" x2="259.49" y2="150.30" stroke="#f8e8b2" stroke-width="2.1" stroke-opacity="1"/>
<line x1="259.49" y1="149.24" x2="259.49" y2="150.30" stroke="#f2d987" stroke-width="1.15" stroke-opacity="1"/>
<line x1="261.55" y1="149.96" x2="261.55" y2="150.30" stroke="#f8e8b2" stroke-width="2.1" stroke-opacity="1"/>
<line x1="261.55" y1="149.96" x2="261.55" y2="150.30" stroke="#f2d987" stroke-width="1.15" stroke-opacity="1"/>
<line x1="265.65" y1="149.81" x2="265.65" y2="150.30" stroke="#f8e8b2" stroke-width="2.1" stroke-opacity="1"/>
<line x1="265.65" y1="149.81" x2="265.65" y2="150.30" stroke="#f2d987" stroke-width="1.15" stroke-opacity="1"/>
<line x1="267.71" y1="148.09" x2="267.71" y2="150.30" stroke="#f8e8b2" stroke-width="2.1" stroke-opacity="1"/>
<line x1="267.71" y1="148.09" x2="267.71" y2="150.30" stroke="#f2d987" stroke-width="1.15" stroke-opacity="1"/>
<line x1="269.76" y1="144.83" x2="269.76" y2="150.30" stroke="#f8e8b2" stroke-width="2.1" stroke-opacity="1"/>
<line x1="269.76" y1="144.83" x2="269.76" y2="150.30" stroke="#f2d987" stroke-width="1.15" stroke-opacity="1"/>
<line x1="271.82" y1="139.95" x2="271.82" y2="150.30" stroke="#f8e8b2" stroke-width="2.1" stroke-opacity="1"/>
<line x1="271.82" y1="139.95" x2="271.82" y2="150.30" stroke="#f2d987" stroke-width="1.15" stroke-opacity="1"/>
<line x1="273.87" y1="133.62" x2="273.87" y2="150.30" stroke="#f8e8b2" stroke-width="2.1" stroke-opacity="1"/>
<line x1="273.87" y1="133.62" x2="273.87" y2="150.30" stroke="#f2d987" stroke-width="1.15" stroke-opacity="1"/>
<line x1="275.93" y1="126.28" x2="275.93" y2="150.30" stroke="#f8e8b2" stroke-width="2.1" stroke-opacity="1"/>
<line x1="275.93" y1="126.28" x2="275.93" y2="150.30" stroke="#f2d987" stroke-width="1.15" stroke-opacity="1"/>
<line x1="277.98" y1="118.60" x2="277.98" y2="150.30" stroke="#f8e8b2" stroke-width="2.1" stroke-opacity="1"/>
<line x1="277.98" y1="118.60" x2="277.98" y2="150.30" stroke="#f2d987" stroke-width="1.15" stroke-opacity="1"/>
<line x1="280.04" y1="111.40" x2="280.04" y2="150.30" stroke="#f8e8b2" stroke-width="2.1" stroke-opacity="1"/>
<line x1="280.04" y1="111.40" x2="280.04" y2="150.30" stroke="#f2d987" stroke-width="1.15" stroke-opacity="1"/>
<line x1="282.09" y1="105.51" x2="282.09" y2="150.30" stroke="#f8e8b2" stroke-width="2.1" stroke-opacity="1"/>
<line x1="282.09" y1="105.51" x2="282.09" y2="150.30" stroke="#f2d987" stroke-width="1.15" stroke-opacity="1"/>
<line x1="284.15" y1="101.64" x2="284.15" y2="150.30" stroke="#f8e8b2" stroke-width="2.1" stroke-opacity="1"/>
<line x1="284.15" y1="101.64" x2="284.15" y2="150.30" stroke="#f2d987" stroke-width="1.15" stroke-opacity="1"/>
<line x1="286.20" y1="100.30" x2="286.20" y2="150.30" stroke="#f8e8b2" stroke-width="2.1" stroke-opacity="1"/>
<line x1="286.20" y1="100.30" x2="286.20" y2="150.30" stroke="#f2d987" stroke-width="1.15" stroke-opacity="1"/>
<line x1="288.25" y1="101.64" x2="288.25" y2="150.30" stroke="#f8e8b2" stroke-width="2.1" stroke-opacity="1"/>
<line x1="288.25" y1="101.64" x2="288.25" y2="150.30" stroke="#f2d987" stroke-width="1.15" stroke-opacity="1"/>
<line x1="290.31" y1="105.51" x2="290.31" y2="150.30" stroke="#f8e8b2" stroke-width="2.1" stroke-opacity="1"/>
<line x1="290.31" y1="105.51" x2="290.31" y2="150.30" stroke="#f2d987" stroke-width="1.15" stroke-opacity="1"/>
<line x1="292.36" y1="111.40" x2="292.36" y2="150.30" stroke="#f8e8b2" stroke-width="2.1" stroke-opacity="1"/>
<line x1="292.36" y1="111.40" x2="292.36" y2="150.30" stroke="#f2d987" stroke-width="1.15" stroke-opacity="1"/>
<line x1="294.42" y1="118.60" x2="294.42" y2="150.30" stroke="#f8e8b2" stroke-width="2.1" stroke-opacity="1"/>
<line x1="294.42" y1="118.60" x2="294.42" y2="150.30" stroke="#f2d987" stroke-width="1.15" stroke-opacity="1"/>
<line x1="296.47" y1="126.28" x2="296.47" y2="150.30" stroke="#f8e8b2" stroke-width="2.1" stroke-opacity="1"/>
<line x1="296.47" y1="126.28" x2="296.47" y2="150.30" stroke="#f2d987" stroke-width="1.15" stroke-opacity="1"/>
<line x1="298.53" y1="133.62" x2="298.53" y2="150.30" stroke="#f8e8b2" stroke-width="2.1" stroke-opacity="1"/>
<line x1="298.53" y1="133.62" x2="298.53" y2="150.30" stroke="#f2d987" stroke-width="1.15" stroke-opacity="1"/>
<line x1="300.58" y1="139.95" x2="300.58" y2="150.30" stroke="#f8e8b2" stroke-width="2.1" stroke-opacity="1"/>
<line x1="300.58" y1="139.95" x2="300.58" y2="150.30" stroke="#f2d987" stroke-width="1.15" stroke-opacity="1"/>
<line x1="302.64" y1="144.83" x2="302.64" y2="150.30" stroke="#f8e8b2" stroke-width="2.1" stroke-opacity="1"/>
<line x1="302.64" y1="144.83" x2="302.64" y2="150.30" stroke="#f2d987" stroke-width="1.15" stroke-opacity="1"/>
<line x1="304.69" y1="148.09" x2="304.69" y2="150.30" stroke="#f8e8b2" stroke-width="2.1" stroke-opacity="1"/>
<line x1="304.69" y1="148.09" x2="304.69" y2="150.30" stroke="#f2d987" stroke-width="1.15" stroke-opacity="1"/>
<line x1="306.75" y1="149.81" x2="306.75" y2="150.30" stroke="#f8e8b2" stroke-width="2.1" stroke-opacity="1"/>
<line x1="306.75" y1="149.81" x2="306.75" y2="150.30" stroke="#f2d987" stroke-width="1.15" stroke-opacity="1"/>
<line x1="310.85" y1="149.96" x2="310.85" y2="150.30" stroke="#f8e8b2" stroke-width="2.1" stroke-opacity="1"/>
<line x1="310.85" y1="149.96" x2="310.85" y2="150.30" stroke="#f2d987" stroke-width="1.15" stroke-opacity="1"/>
<line x1="312.91" y1="149.24" x2="312.91" y2="150.30" stroke="#f8e8b2" stroke-width="2.1" stroke-opacity="1"/>
<line x1="312.91" y1="149.24" x2="312.91" y2="150.30" stroke="#f2d987" stroke-width="1.15" stroke-opacity="1"/>
<line x1="314.96" y1="148.51" x2="314.96" y2="150.30" stroke="#f8e8b2" stroke-width="2.1" stroke-opacity="1"/>
<line x1="314.96" y1="148.51" x2="314.96" y2="150.30" stroke="#f2d987" stroke-width="1.15" stroke-opacity="1"/>
<line x1="317.02" y1="148.05" x2="317.02" y2="150.30" stroke="#f8e8b2" stroke-width="2.1" stroke-opacity="1"/>
<line x1="317.02" y1="148.05" x2="317.02" y2="150.30" stroke="#f2d987" stroke-width="1.15" stroke-opacity="1"/>
<line x1="319.07" y1="147.95" x2="319.07" y2="150.30" stroke="#f8e8b2" stroke-width="2.1" stroke-opacity="1"/>
<line x1="319.07" y1="147.95" x2="319.07" y2="150.30" stroke="#f2d987" stroke-width="1.15" stroke-opacity="1"/>
<line x1="321.13" y1="148.22" x2="321.13" y2="150.30" stroke="#f8e8b2" stroke-width="2.1" stroke-opacity="1"/>
<line x1="321.13" y1="148.22" x2="321.13" y2="150.30" stroke="#f2d987" stroke-width="1.15" stroke-opacity="1"/>
<line x1="323.18" y1="148.73" x2="323.18" y2="150.30" stroke="#f8e8b2" stroke-width="2.1" stroke-opacity="1"/>
<line x1="323.18" y1="148.73" x2="323.18" y2="150.30" stroke="#f2d987" stroke-width="1.15" stroke-opacity="1"/>
<line x1="325.24" y1="149.33" x2="325.24" y2="150.30" stroke="#f8e8b2" stroke-width="2.1" stroke-opacity="1"/>
<line x1="325.24" y1="149.33" x2="325.24" y2="150.30" stroke="#f2d987" stroke-width="1.15" stroke-opacity="1"/>
<line x1="327.29" y1="149.85" x2="327.29" y2="150.30" stroke="#f8e8b2" stroke-width="2.1" stroke-opacity="1"/>
<line x1="327.29" y1="149.85" x2="327.29" y2="150.30" stroke="#f2d987" stroke-width="1.15" stroke-opacity="1"/>
<line x1="335.51" y1="149.99" x2="335.51" y2="150.30" stroke="#f8e8b2" stroke-width="2.1" stroke-opacity="1"/>
<line x1="335.51" y1="149.99" x2="335.51" y2="150.30" stroke="#f2d987" stroke-width="1.15" stroke-opacity="1"/>
<line x1="337.56" y1="149.74" x2="337.56" y2="150.30" stroke="#f8e8b2" stroke-width="2.1" stroke-opacity="1"/>
<line x1="337.56" y1="149.74" x2="337.56" y2="150.30" stroke="#f2d987" stroke-width="1.15" stroke-opacity="1"/>
<line x1="339.62" y1="149.55" x2="339.62" y2="150.30" stroke="#f8e8b2" stroke-width="2.1" stroke-opacity="1"/>
<line x1="339.62" y1="149.55" x2="339.62" y2="150.30" stroke="#f2d987" stroke-width="1.15" stroke-opacity="1"/>
<line x1="341.67" y1="149.48" x2="341.67" y2="150.30" stroke="#f8e8b2" stroke-width="2.1" stroke-opacity="1"/>
<line x1="341.67" y1="149.48" x2="341.67" y2="150.30" stroke="#f2d987" stroke-width="1.15" stroke-opacity="1"/>
<line x1="343.73" y1="149.53" x2="343.73" y2="150.30" stroke="#f8e8b2" stroke-width="2.1" stroke-opacity="1"/>
<line x1="343.73" y1="149.53" x2="343.73" y2="150.30" stroke="#f2d987" stroke-width="1.15" stroke-opacity="1"/>
<line x1="345.78" y1="149.70" x2="345.78" y2="150.30" stroke="#f8e8b2" stroke-width="2.1" stroke-opacity="1"/>
<line x1="345.78" y1="149.70" x2="345.78" y2="150.30" stroke="#f2d987" stroke-width="1.15" stroke-opacity="1"/>
<line x1="347.84" y1="149.91" x2="347.84" y2="150.30" stroke="#f8e8b2" stroke-width="2.1" stroke-opacity="1"/>
<line x1="347.84" y1="149.91" x2="347.84" y2="150.30" stroke="#f2d987" stroke-width="1.15" stroke-opacity="1"/>
<line x1="349.89" y1="150.11" x2="349.89" y2="150.30" stroke="#f8e8b2" stroke-width="2.1" stroke-opacity="1"/>
<line x1="349.89" y1="150.11" x2="349.89" y2="150.30" stroke="#f2d987" stroke-width="1.15" stroke-opacity="1"/>
<circle cx="275.93" cy="126.28" r="1.55" fill="#dba514"/>
<circle cx="277.98" cy="118.60" r="1.55" fill="#dba514"/>
<circle cx="280.04" cy="111.40" r="1.55" fill="#dba514"/>
<circle cx="282.09" cy="105.51" r="1.55" fill="#dba514"/>
<circle cx="284.15" cy="101.64" r="1.55" fill="#dba514"/>
<circle cx="286.20" cy="100.30" r="1.55" fill="#dba514"/>
<circle cx="288.25" cy="101.64" r="1.55" fill="#dba514"/>
<circle cx="290.31" cy="105.51" r="1.55" fill="#dba514"/>
<circle cx="292.36" cy="111.40" r="1.55" fill="#dba514"/>
<circle cx="294.42" cy="118.60" r="1.55" fill="#dba514"/>
<circle cx="296.47" cy="126.28" r="1.55" fill="#dba514"/>
</g>
<line x1="214.50" y1="150.30" x2="218.4" y2="150.30" stroke="#000" stroke-width="1.3"/>
<text x="213.20" y="153.10" text-anchor="end">0.00</text>
<line x1="214.50" y1="122.80" x2="218.4" y2="122.80" stroke="#000" stroke-width="1.3"/>
<text x="213.20" y="125.60" text-anchor="end">0.05</text>
<text transform="translate(194.60,125.48) rotate(-90)" text-anchor="middle"><tspan font-style="italic">p</tspan><tspan font-size="6" dx="-3.3" dy="-3.4">~</tspan><tspan font-size="6.0" dx="0.1" dy="5.0">22, 16</tspan><tspan dy="-1.6">(</tspan><tspan font-style="italic">α</tspan><tspan font-style="italic" font-size="6.0" dy="1.4">j</tspan><tspan dy="-1.4">​</tspan><tspan>)</tspan></text>
<clipPath id="cf"><rect x="401.0" y="98.15" width="135.39999999999998" height="54.650000000000006"/></clipPath><g clip-path="url(#cf)">
<path d="M401.0 150.3 L400.90 149.85 L401.13 149.85 L401.35 149.85 L401.58 149.85 L401.80 149.85 L402.03 149.85 L402.26 149.85 L402.48 149.85 L402.71 149.85 L402.93 149.85 L403.16 149.85 L403.39 149.85 L403.61 149.85 L403.84 149.85 L404.06 149.85 L404.29 149.85 L404.52 149.85 L404.74 149.85 L404.97 149.85 L405.19 149.85 L405.42 149.85 L405.65 149.85 L405.87 149.85 L406.10 149.85 L406.32 149.85 L406.55 149.85 L406.78 149.85 L407.00 149.85 L407.23 149.85 L407.45 149.85 L407.68 149.84 L407.91 149.82 L408.13 149.79 L408.36 149.77 L408.58 149.75 L408.81 149.72 L409.04 149.70 L409.26 149.68 L409.49 149.66 L409.71 149.64 L409.94 149.62 L410.17 149.60 L410.39 149.58 L410.62 149.57 L410.84 149.55 L411.07 149.54 L411.30 149.52 L411.52 149.51 L411.75 149.50 L411.97 149.49 L412.20 149.48 L412.43 149.48 L412.65 149.47 L412.88 149.47 L413.10 149.47 L413.33 149.47 L413.56 149.47 L413.78 149.48 L414.01 149.48 L414.23 149.49 L414.46 149.50 L414.69 149.51 L414.91 149.52 L415.14 149.54 L415.36 149.55 L415.59 149.57 L415.82 149.59 L416.04 149.60 L416.27 149.62 L416.49 149.65 L416.72 149.67 L416.95 149.69 L417.17 149.72 L417.40 149.74 L417.62 149.77 L417.85 149.80 L418.08 149.82 L418.30 149.85 L418.53 149.85 L418.75 149.85 L418.98 149.85 L419.21 149.85 L419.43 149.85 L419.66 149.85 L419.88 149.85 L420.11 149.85 L420.34 149.85 L420.56 149.85 L420.79 149.85 L421.01 149.85 L421.24 149.85 L421.47 149.85 L421.69 149.85 L421.92 149.85 L422.14 149.85 L422.37 149.85 L422.60 149.85 L422.82 149.85 L423.05 149.85 L423.27 149.85 L423.50 149.85 L423.73 149.85 L423.95 149.85 L424.18 149.85 L424.40 149.85 L424.63 149.85 L424.86 149.85 L425.08 149.85 L425.31 149.85 L425.53 149.85 L425.76 149.85 L425.99 149.85 L426.21 149.85 L426.44 149.85 L426.66 149.85 L426.89 149.85 L427.12 149.85 L427.34 149.85 L427.57 149.85 L427.79 149.81 L428.02 149.76 L428.25 149.70 L428.47 149.65 L428.70 149.59 L428.92 149.53 L429.15 149.47 L429.38 149.41 L429.60 149.34 L429.83 149.28 L430.05 149.21 L430.28 149.15 L430.51 149.08 L430.73 149.01 L430.96 148.95 L431.18 148.88 L431.41 148.81 L431.64 148.75 L431.86 148.68 L432.09 148.62 L432.31 148.56 L432.54 148.50 L432.77 148.44 L432.99 148.38 L433.22 148.33 L433.44 148.28 L433.67 148.23 L433.90 148.18 L434.12 148.14 L434.35 148.10 L434.57 148.07 L434.80 148.03 L435.03 148.01 L435.25 147.98 L435.48 147.96 L435.70 147.95 L435.93 147.94 L436.16 147.93 L436.38 147.93 L436.61 147.93 L436.83 147.94 L437.06 147.95 L437.29 147.96 L437.51 147.99 L437.74 148.01 L437.96 148.04 L438.19 148.08 L438.42 148.12 L438.64 148.17 L438.87 148.21 L439.09 148.27 L439.32 148.33 L439.55 148.39 L439.77 148.45 L440.00 148.52 L440.22 148.59 L440.45 148.67 L440.68 148.75 L440.90 148.83 L441.13 148.91 L441.35 148.99 L441.58 149.08 L441.81 149.16 L442.03 149.25 L442.26 149.34 L442.48 149.42 L442.71 149.51 L442.94 149.59 L443.16 149.67 L443.39 149.75 L443.61 149.83 L443.84 149.85 L444.07 149.85 L444.29 149.85 L444.52 149.85 L444.74 149.85 L444.97 149.85 L445.20 149.85 L445.42 149.85 L445.65 149.85 L445.87 149.85 L446.10 149.85 L446.33 149.85 L446.55 149.85 L446.78 149.85 L447.00 149.85 L447.23 149.85 L447.46 149.85 L447.68 149.85 L447.91 149.85 L448.13 149.82 L448.36 149.70 L448.59 149.56 L448.81 149.41 L449.04 149.24 L449.26 149.05 L449.49 148.85 L449.72 148.62 L449.94 148.38 L450.17 148.12 L450.39 147.85 L450.62 147.55 L450.85 147.23 L451.07 146.90 L451.30 146.54 L451.52 146.17 L451.75 145.77 L451.98 145.35 L452.20 144.92 L452.43 144.46 L452.65 143.99 L452.88 143.49 L453.11 142.98 L453.33 142.44 L453.56 141.89 L453.78 141.32 L454.01 140.72 L454.24 140.11 L454.46 139.48 L454.69 138.84 L454.91 138.18 L455.14 137.50 L455.37 136.80 L455.59 136.09 L455.82 135.36 L456.04 134.62 L456.27 133.86 L456.50 133.10 L456.72 132.32 L456.95 131.53 L457.17 130.73 L457.40 129.91 L457.63 129.09 L457.85 128.27 L458.08 127.43 L458.30 126.59 L458.53 125.75 L458.76 124.90 L458.98 124.05 L459.21 123.20 L459.43 122.34 L459.66 121.49 L459.89 120.64 L460.11 119.79 L460.34 118.94 L460.56 118.10 L460.79 117.27 L461.02 116.45 L461.24 115.63 L461.47 114.82 L461.69 114.02 L461.92 113.24 L462.15 112.46 L462.37 111.71 L462.60 110.96 L462.82 110.24 L463.05 109.53 L463.28 108.84 L463.50 108.17 L463.73 107.52 L463.95 106.89 L464.18 106.28 L464.41 105.70 L464.63 105.14 L464.86 104.60 L465.08 104.10 L465.31 103.61 L465.54 103.16 L465.76 102.74 L465.99 102.34 L466.21 101.97 L466.44 101.63 L466.67 101.33 L466.89 101.05 L467.12 100.81 L467.34 100.59 L467.57 100.41 L467.80 100.26 L468.02 100.15 L468.25 100.07 L468.47 100.02 L468.70 100.00 L468.93 100.02 L469.15 100.07 L469.38 100.15 L469.60 100.26 L469.83 100.41 L470.06 100.59 L470.28 100.81 L470.51 101.05 L470.73 101.33 L470.96 101.63 L471.19 101.97 L471.41 102.34 L471.64 102.74 L471.86 103.16 L472.09 103.61 L472.32 104.10 L472.54 104.60 L472.77 105.14 L472.99 105.70 L473.22 106.28 L473.45 106.89 L473.67 107.52 L473.90 108.17 L474.12 108.84 L474.35 109.53 L474.58 110.24 L474.80 110.96 L475.03 111.71 L475.25 112.46 L475.48 113.24 L475.71 114.02 L475.93 114.82 L476.16 115.63 L476.38 116.45 L476.61 117.27 L476.84 118.10 L477.06 118.94 L477.29 119.79 L477.51 120.64 L477.74 121.49 L477.97 122.34 L478.19 123.20 L478.42 124.05 L478.64 124.90 L478.87 125.75 L479.10 126.59 L479.32 127.43 L479.55 128.27 L479.77 129.09 L480.00 129.91 L480.23 130.73 L480.45 131.53 L480.68 132.32 L480.90 133.10 L481.13 133.86 L481.36 134.62 L481.58 135.36 L481.81 136.09 L482.03 136.80 L482.26 137.50 L482.49 138.18 L482.71 138.84 L482.94 139.48 L483.16 140.11 L483.39 140.72 L483.62 141.32 L483.84 141.89 L484.07 142.44 L484.29 142.98 L484.52 143.49 L484.75 143.99 L484.97 144.46 L485.20 144.92 L485.42 145.35 L485.65 145.77 L485.88 146.17 L486.10 146.54 L486.33 146.90 L486.55 147.23 L486.78 147.55 L487.01 147.85 L487.23 148.12 L487.46 148.38 L487.68 148.62 L487.91 148.85 L488.14 149.05 L488.36 149.24 L488.59 149.41 L488.81 149.56 L489.04 149.70 L489.27 149.82 L489.49 149.85 L489.72 149.85 L489.94 149.85 L490.17 149.85 L490.40 149.85 L490.62 149.85 L490.85 149.85 L491.07 149.85 L491.30 149.85 L491.53 149.85 L491.75 149.85 L491.98 149.85 L492.20 149.85 L492.43 149.85 L492.66 149.85 L492.88 149.85 L493.11 149.85 L493.33 149.85 L493.56 149.85 L493.79 149.83 L494.01 149.75 L494.24 149.67 L494.46 149.59 L494.69 149.51 L494.92 149.42 L495.14 149.34 L495.37 149.25 L495.59 149.16 L495.82 149.08 L496.05 148.99 L496.27 148.91 L496.50 148.83 L496.72 148.75 L496.95 148.67 L497.18 148.59 L497.40 148.52 L497.63 148.45 L497.85 148.39 L498.08 148.33 L498.31 148.27 L498.53 148.21 L498.76 148.17 L498.98 148.12 L499.21 148.08 L499.44 148.04 L499.66 148.01 L499.89 147.99 L500.11 147.96 L500.34 147.95 L500.57 147.94 L500.79 147.93 L501.02 147.93 L501.24 147.93 L501.47 147.94 L501.70 147.95 L501.92 147.96 L502.15 147.98 L502.37 148.01 L502.60 148.03 L502.83 148.07 L503.05 148.10 L503.28 148.14 L503.50 148.18 L503.73 148.23 L503.96 148.28 L504.18 148.33 L504.41 148.38 L504.63 148.44 L504.86 148.50 L505.09 148.56 L505.31 148.62 L505.54 148.68 L505.76 148.75 L505.99 148.81 L506.22 148.88 L506.44 148.95 L506.67 149.01 L506.89 149.08 L507.12 149.15 L507.35 149.21 L507.57 149.28 L507.80 149.34 L508.02 149.41 L508.25 149.47 L508.48 149.53 L508.70 149.59 L508.93 149.65 L509.15 149.70 L509.38 149.76 L509.61 149.81 L509.83 149.85 L510.06 149.85 L510.28 149.85 L510.51 149.85 L510.74 149.85 L510.96 149.85 L511.19 149.85 L511.41 149.85 L511.64 149.85 L511.87 149.85 L512.09 149.85 L512.32 149.85 L512.54 149.85 L512.77 149.85 L513.00 149.85 L513.22 149.85 L513.45 149.85 L513.67 149.85 L513.90 149.85 L514.13 149.85 L514.35 149.85 L514.58 149.85 L514.80 149.85 L515.03 149.85 L515.26 149.85 L515.48 149.85 L515.71 149.85 L515.93 149.85 L516.16 149.85 L516.39 149.85 L516.61 149.85 L516.84 149.85 L517.06 149.85 L517.29 149.85 L517.52 149.85 L517.74 149.85 L517.97 149.85 L518.19 149.85 L518.42 149.85 L518.65 149.85 L518.87 149.85 L519.10 149.85 L519.32 149.82 L519.55 149.80 L519.78 149.77 L520.00 149.74 L520.23 149.72 L520.45 149.69 L520.68 149.67 L520.91 149.65 L521.13 149.62 L521.36 149.60 L521.58 149.59 L521.81 149.57 L522.04 149.55 L522.26 149.54 L522.49 149.52 L522.71 149.51 L522.94 149.50 L523.17 149.49 L523.39 149.48 L523.62 149.48 L523.84 149.47 L524.07 149.47 L524.30 149.47 L524.52 149.47 L524.75 149.47 L524.97 149.48 L525.20 149.48 L525.43 149.49 L525.65 149.50 L525.88 149.51 L526.10 149.52 L526.33 149.54 L526.56 149.55 L526.78 149.57 L527.01 149.58 L527.23 149.60 L527.46 149.62 L527.69 149.64 L527.91 149.66 L528.14 149.68 L528.36 149.70 L528.59 149.72 L528.82 149.75 L529.04 149.77 L529.27 149.79 L529.49 149.82 L529.72 149.84 L529.95 149.85 L530.17 149.85 L530.40 149.85 L530.62 149.85 L530.85 149.85 L531.08 149.85 L531.30 149.85 L531.53 149.85 L531.75 149.85 L531.98 149.85 L532.21 149.85 L532.43 149.85 L532.66 149.85 L532.88 149.85 L533.11 149.85 L533.34 149.85 L533.56 149.85 L533.79 149.85 L534.01 149.85 L534.24 149.85 L534.47 149.85 L534.69 149.85 L534.92 149.85 L535.14 149.85 L535.37 149.85 L535.60 149.85 L535.82 149.85 L536.05 149.85 L536.27 149.85 L536.50 149.85 L536.4 150.3 Z" fill="#68cab3"/>
<path d="M457.51 129.51 L457.74 128.69 L457.96 127.87 L458.18 127.04 L458.41 126.20 L458.63 125.37 L458.86 124.53 L459.08 123.68 L459.30 122.84 L459.53 121.99 L459.75 121.15 L459.97 120.31 L460.20 119.47 L460.42 118.63 L460.65 117.80 L460.87 116.98 L461.09 116.17 L461.32 115.36 L461.54 114.56 L461.76 113.78 L461.99 113.00 L462.21 112.24 L462.44 111.50 L462.66 110.77 L462.88 110.05 L463.11 109.35 L463.33 108.67 L463.55 108.02 L463.78 107.38 L464.00 106.76 L464.23 106.16 L464.45 105.59 L464.67 105.04 L464.90 104.52 L465.12 104.02 L465.34 103.54 L465.57 103.10 L465.79 102.68 L466.02 102.29 L466.24 101.93 L466.46 101.60 L466.69 101.30 L466.91 101.03 L467.13 100.79 L467.36 100.58 L467.58 100.40 L467.81 100.26 L468.03 100.15 L468.25 100.06 L468.48 100.02 L468.70 100.00 L468.92 100.02 L469.15 100.06 L469.37 100.15 L469.59 100.26 L469.82 100.40 L470.04 100.58 L470.27 100.79 L470.49 101.03 L470.71 101.30 L470.94 101.60 L471.16 101.93 L471.38 102.29 L471.61 102.68 L471.83 103.10 L472.06 103.54 L472.28 104.02 L472.50 104.52 L472.73 105.04 L472.95 105.59 L473.17 106.16 L473.40 106.76 L473.62 107.38 L473.85 108.02 L474.07 108.67 L474.29 109.35 L474.52 110.05 L474.74 110.77 L474.96 111.50 L475.19 112.24 L475.41 113.00 L475.64 113.78 L475.86 114.56 L476.08 115.36 L476.31 116.17 L476.53 116.98 L476.75 117.80 L476.98 118.63 L477.20 119.47 L477.43 120.31 L477.65 121.15 L477.87 121.99 L478.10 122.84 L478.32 123.68 L478.54 124.53 L478.77 125.37 L478.99 126.20 L479.22 127.04 L479.44 127.87 L479.66 128.69 L479.89 129.51" fill="none" stroke="#1a9e80" stroke-width="3.4" stroke-linecap="round" stroke-linejoin="round"/>
</g>
<line x1="397.10" y1="150.30" x2="401.0" y2="150.30" stroke="#000" stroke-width="1.3"/>
<text x="395.80" y="153.10" text-anchor="end">0.00</text>
<line x1="397.10" y1="118.70" x2="401.0" y2="118.70" stroke="#000" stroke-width="1.3"/>
<text x="395.80" y="121.50" text-anchor="end">0.01</text>
<text transform="translate(378.00,125.48) rotate(-90)" text-anchor="middle"><tspan font-style="italic">p</tspan><tspan font-size="6" dx="-3.3" dy="-3.4">~</tspan><tspan font-size="6.0" dx="0.1" dy="5.0">63, 16</tspan><tspan dy="-1.6">(</tspan><tspan font-style="italic">α</tspan><tspan font-style="italic" font-size="6.0" dy="1.4">j</tspan><tspan dy="-1.4">​</tspan><tspan>)</tspan></text>
<line x1="36.10" y1="243.25" x2="36.10" y2="247.20" stroke="#000" stroke-width="1.3"/>
<text x="36.10" y="254.55" text-anchor="middle">−<tspan font-style="italic">t</tspan></text>
<line x1="171.60" y1="243.25" x2="171.60" y2="247.20" stroke="#000" stroke-width="1.3"/>
<text x="171.60" y="254.55" text-anchor="middle"><tspan font-style="italic">t</tspan></text>
<line x1="103.85" y1="243.25" x2="103.85" y2="247.20" stroke="#000" stroke-width="1.3"/>
<text x="103.85" y="254.55" text-anchor="middle">0</text>
<line x1="82.68" y1="243.25" x2="82.68" y2="247.20" stroke="#000" stroke-width="1.3"/>
<text x="82.98" y="254.55" text-anchor="middle">−sigbits(<tspan font-style="italic" font-family="DejaVu Serif, serif" font-size="7.6">π</tspan>)</text>
<line x1="125.02" y1="243.25" x2="125.02" y2="247.20" stroke="#000" stroke-width="1.3"/>
<text x="125.12" y="254.55" text-anchor="middle">sigbits(<tspan font-style="italic" font-family="DejaVu Serif, serif" font-size="7.6">π</tspan>)</text>
<text x="103.85" y="263.85" text-anchor="middle"><tspan font-style="italic">b</tspan><tspan font-style="italic" font-size="6.0" dy="1.6">j</tspan></text>
<text x="9.10" y="188.90" font-weight="bold" font-size="7.4">g</text>
<line x1="218.40" y1="243.25" x2="218.40" y2="247.20" stroke="#000" stroke-width="1.3"/>
<text x="218.40" y="254.55" text-anchor="middle">−<tspan font-style="italic">t</tspan></text>
<line x1="354.00" y1="243.25" x2="354.00" y2="247.20" stroke="#000" stroke-width="1.3"/>
<text x="354.00" y="254.55" text-anchor="middle"><tspan font-style="italic">t</tspan></text>
<line x1="286.20" y1="243.25" x2="286.20" y2="247.20" stroke="#000" stroke-width="1.3"/>
<text x="286.20" y="254.55" text-anchor="middle">0</text>
<line x1="265.01" y1="243.25" x2="265.01" y2="247.20" stroke="#000" stroke-width="1.3"/>
<text x="265.31" y="254.55" text-anchor="middle">−sigbits(<tspan font-style="italic" font-family="DejaVu Serif, serif" font-size="7.6">π</tspan>)</text>
<line x1="307.39" y1="243.25" x2="307.39" y2="247.20" stroke="#000" stroke-width="1.3"/>
<text x="307.49" y="254.55" text-anchor="middle">sigbits(<tspan font-style="italic" font-family="DejaVu Serif, serif" font-size="7.6">π</tspan>)</text>
<text x="286.20" y="263.85" text-anchor="middle"><tspan font-style="italic">b</tspan><tspan font-style="italic" font-size="6.0" dy="1.6">j</tspan></text>
<text x="191.40" y="188.90" font-weight="bold" font-size="7.4">h</text>
<line x1="401.00" y1="243.25" x2="401.00" y2="247.20" stroke="#000" stroke-width="1.3"/>
<text x="401.00" y="254.55" text-anchor="middle">−<tspan font-style="italic">t</tspan></text>
<line x1="536.40" y1="243.25" x2="536.40" y2="247.20" stroke="#000" stroke-width="1.3"/>
<text x="536.40" y="254.55" text-anchor="middle"><tspan font-style="italic">t</tspan></text>
<line x1="468.70" y1="243.25" x2="468.70" y2="247.20" stroke="#000" stroke-width="1.3"/>
<text x="468.70" y="254.55" text-anchor="middle">0</text>
<line x1="443.31" y1="243.25" x2="443.31" y2="247.20" stroke="#000" stroke-width="1.3"/>
<text x="443.61" y="254.55" text-anchor="middle">−sigbits(<tspan font-style="italic" font-family="DejaVu Serif, serif" font-size="7.6">π</tspan>)</text>
<line x1="494.09" y1="243.25" x2="494.09" y2="247.20" stroke="#000" stroke-width="1.3"/>
<text x="494.19" y="254.55" text-anchor="middle">sigbits(<tspan font-style="italic" font-family="DejaVu Serif, serif" font-size="7.6">π</tspan>)</text>
<text x="468.70" y="263.85" text-anchor="middle"><tspan font-style="italic">b</tspan><tspan font-style="italic" font-size="6.0" dy="1.6">j</tspan></text>
<text x="374.00" y="188.90" font-weight="bold" font-size="7.4">i</text>
<line x1="103.85" y1="190.80" x2="103.85" y2="240.60" stroke="#7a82f8" stroke-width="1.9" stroke-opacity="1.0"/>
<circle cx="103.85" cy="190.80" r="1.6" fill="#2536f5"/>
<line x1="32.20" y1="240.60" x2="36.1" y2="240.60" stroke="#000" stroke-width="1.3"/>
<text x="30.90" y="243.40" text-anchor="end">0.0</text>
<line x1="32.20" y1="215.60" x2="36.1" y2="215.60" stroke="#000" stroke-width="1.3"/>
<text x="30.90" y="218.40" text-anchor="end">0.5</text>
<line x1="32.20" y1="190.50" x2="36.1" y2="190.50" stroke="#000" stroke-width="1.3"/>
<text x="30.90" y="193.30" text-anchor="end">1.0</text>
<text transform="translate(16.80,215.88) rotate(-90)" text-anchor="middle"><tspan font-style="italic">p</tspan><tspan font-size="6" dx="-3.3" dy="-3.4">~</tspan><tspan font-size="6.0" dx="0.1" dy="5.0">16, 16</tspan><tspan dy="-1.6">(</tspan><tspan font-style="italic">b</tspan><tspan font-style="italic" font-size="6.0" dy="1.4">j</tspan><tspan dy="-1.4">​</tspan><tspan>)</tspan></text>
<line x1="265.01" y1="232.40" x2="265.01" y2="240.60" stroke="#efd47c" stroke-width="1.4" stroke-opacity="1.0"/>
<line x1="307.39" y1="232.40" x2="307.39" y2="240.60" stroke="#efd47c" stroke-width="1.4" stroke-opacity="1.0"/>
<line x1="260.77" y1="233.80" x2="260.77" y2="240.60" stroke="#efd47c" stroke-width="1.4" stroke-opacity="1.0"/>
<line x1="311.62" y1="233.80" x2="311.62" y2="240.60" stroke="#efd47c" stroke-width="1.4" stroke-opacity="1.0"/>
<line x1="256.54" y1="238.00" x2="256.54" y2="240.60" stroke="#efd47c" stroke-width="1.4" stroke-opacity="1.0"/>
<line x1="315.86" y1="238.00" x2="315.86" y2="240.60" stroke="#efd47c" stroke-width="1.4" stroke-opacity="1.0"/>
<line x1="252.30" y1="239.10" x2="252.30" y2="240.60" stroke="#efd47c" stroke-width="1.4" stroke-opacity="1.0"/>
<line x1="320.10" y1="239.10" x2="320.10" y2="240.60" stroke="#efd47c" stroke-width="1.4" stroke-opacity="1.0"/>
<line x1="248.06" y1="239.90" x2="248.06" y2="240.60" stroke="#efd47c" stroke-width="1.4" stroke-opacity="1.0"/>
<line x1="324.34" y1="239.90" x2="324.34" y2="240.60" stroke="#efd47c" stroke-width="1.4" stroke-opacity="1.0"/>
<line x1="243.82" y1="240.10" x2="243.82" y2="240.60" stroke="#efd47c" stroke-width="1.4" stroke-opacity="1.0"/>
<line x1="328.57" y1="240.10" x2="328.57" y2="240.60" stroke="#efd47c" stroke-width="1.4" stroke-opacity="1.0"/>
<line x1="239.59" y1="240.20" x2="239.59" y2="240.60" stroke="#efd47c" stroke-width="1.4" stroke-opacity="1.0"/>
<line x1="332.81" y1="240.20" x2="332.81" y2="240.60" stroke="#efd47c" stroke-width="1.4" stroke-opacity="1.0"/>
<line x1="235.35" y1="240.30" x2="235.35" y2="240.60" stroke="#efd47c" stroke-width="1.4" stroke-opacity="1.0"/>
<line x1="337.05" y1="240.30" x2="337.05" y2="240.60" stroke="#efd47c" stroke-width="1.4" stroke-opacity="1.0"/>
<line x1="286.20" y1="210.70" x2="286.20" y2="240.60" stroke="#ebc962" stroke-width="1.5" stroke-opacity="1.0"/>
<circle cx="286.20" cy="210.70" r="1.7" fill="#dba514"/>
<line x1="277.72" y1="211.90" x2="277.72" y2="240.60" stroke="#ebc962" stroke-width="1.5" stroke-opacity="1.0"/>
<circle cx="277.72" cy="211.90" r="1.7" fill="#dba514"/>
<line x1="294.68" y1="211.90" x2="294.68" y2="240.60" stroke="#ebc962" stroke-width="1.5" stroke-opacity="1.0"/>
<circle cx="294.68" cy="211.90" r="1.7" fill="#dba514"/>
<line x1="273.49" y1="190.80" x2="273.49" y2="240.60" stroke="#ebc962" stroke-width="1.5" stroke-opacity="1.0"/>
<circle cx="273.49" cy="190.80" r="1.7" fill="#dba514"/>
<line x1="298.91" y1="190.80" x2="298.91" y2="240.60" stroke="#ebc962" stroke-width="1.5" stroke-opacity="1.0"/>
<circle cx="298.91" cy="190.80" r="1.7" fill="#dba514"/>
<line x1="269.25" y1="191.80" x2="269.25" y2="240.60" stroke="#ebc962" stroke-width="1.5" stroke-opacity="1.0"/>
<circle cx="269.25" cy="191.80" r="1.7" fill="#dba514"/>
<line x1="303.15" y1="191.80" x2="303.15" y2="240.60" stroke="#ebc962" stroke-width="1.5" stroke-opacity="1.0"/>
<circle cx="303.15" cy="191.80" r="1.7" fill="#dba514"/>
<line x1="214.50" y1="240.60" x2="218.4" y2="240.60" stroke="#000" stroke-width="1.3"/>
<text x="213.20" y="243.40" text-anchor="end">0.0</text>
<line x1="214.50" y1="208.00" x2="218.4" y2="208.00" stroke="#000" stroke-width="1.3"/>
<text x="213.20" y="210.80" text-anchor="end">0.1</text>
<text transform="translate(199.10,215.88) rotate(-90)" text-anchor="middle"><tspan font-style="italic">p</tspan><tspan font-size="6" dx="-3.3" dy="-3.4">~</tspan><tspan font-size="6.0" dx="0.1" dy="5.0">22, 16</tspan><tspan dy="-1.6">(</tspan><tspan font-style="italic">b</tspan><tspan font-style="italic" font-size="6.0" dy="1.4">j</tspan><tspan dy="-1.4">​</tspan><tspan>)</tspan></text>
<line x1="443.31" y1="219.90" x2="443.31" y2="240.60" stroke="#70cbb5" stroke-width="1.4" stroke-opacity="1.0"/>
<line x1="494.09" y1="219.90" x2="494.09" y2="240.60" stroke="#70cbb5" stroke-width="1.4" stroke-opacity="1.0"/>
<line x1="439.08" y1="232.90" x2="439.08" y2="240.60" stroke="#70cbb5" stroke-width="1.4" stroke-opacity="1.0"/>
<line x1="498.32" y1="232.90" x2="498.32" y2="240.60" stroke="#70cbb5" stroke-width="1.4" stroke-opacity="1.0"/>
<line x1="434.85" y1="236.50" x2="434.85" y2="240.60" stroke="#70cbb5" stroke-width="1.4" stroke-opacity="1.0"/>
<line x1="502.55" y1="236.50" x2="502.55" y2="240.60" stroke="#70cbb5" stroke-width="1.4" stroke-opacity="1.0"/>
<line x1="430.62" y1="238.40" x2="430.62" y2="240.60" stroke="#70cbb5" stroke-width="1.4" stroke-opacity="1.0"/>
<line x1="506.78" y1="238.40" x2="506.78" y2="240.60" stroke="#70cbb5" stroke-width="1.4" stroke-opacity="1.0"/>
<line x1="426.39" y1="239.40" x2="426.39" y2="240.60" stroke="#70cbb5" stroke-width="1.4" stroke-opacity="1.0"/>
<line x1="511.01" y1="239.40" x2="511.01" y2="240.60" stroke="#70cbb5" stroke-width="1.4" stroke-opacity="1.0"/>
<line x1="422.16" y1="239.90" x2="422.16" y2="240.60" stroke="#70cbb5" stroke-width="1.4" stroke-opacity="1.0"/>
<line x1="515.24" y1="239.90" x2="515.24" y2="240.60" stroke="#70cbb5" stroke-width="1.4" stroke-opacity="1.0"/>
<line x1="417.93" y1="240.20" x2="417.93" y2="240.60" stroke="#70cbb5" stroke-width="1.4" stroke-opacity="1.0"/>
<line x1="519.48" y1="240.20" x2="519.48" y2="240.60" stroke="#70cbb5" stroke-width="1.4" stroke-opacity="1.0"/>
<line x1="413.69" y1="240.30" x2="413.69" y2="240.60" stroke="#70cbb5" stroke-width="1.4" stroke-opacity="1.0"/>
<line x1="523.71" y1="240.30" x2="523.71" y2="240.60" stroke="#70cbb5" stroke-width="1.4" stroke-opacity="1.0"/>
<line x1="468.70" y1="235.30" x2="468.70" y2="240.60" stroke="#4cbda3" stroke-width="1.5" stroke-opacity="1.0"/>
<circle cx="468.70" cy="235.30" r="1.7" fill="#1a9e80"/>
<line x1="464.47" y1="235.30" x2="464.47" y2="240.60" stroke="#4cbda3" stroke-width="1.5" stroke-opacity="1.0"/>
<circle cx="464.47" cy="235.30" r="1.7" fill="#1a9e80"/>
<line x1="472.93" y1="235.30" x2="472.93" y2="240.60" stroke="#4cbda3" stroke-width="1.5" stroke-opacity="1.0"/>
<circle cx="472.93" cy="235.30" r="1.7" fill="#1a9e80"/>
<line x1="460.24" y1="230.50" x2="460.24" y2="240.60" stroke="#4cbda3" stroke-width="1.5" stroke-opacity="1.0"/>
<circle cx="460.24" cy="230.50" r="1.7" fill="#1a9e80"/>
<line x1="477.16" y1="230.50" x2="477.16" y2="240.60" stroke="#4cbda3" stroke-width="1.5" stroke-opacity="1.0"/>
<circle cx="477.16" cy="230.50" r="1.7" fill="#1a9e80"/>
<line x1="456.01" y1="220.80" x2="456.01" y2="240.60" stroke="#4cbda3" stroke-width="1.5" stroke-opacity="1.0"/>
<circle cx="456.01" cy="220.80" r="1.7" fill="#1a9e80"/>
<line x1="481.39" y1="220.80" x2="481.39" y2="240.60" stroke="#4cbda3" stroke-width="1.5" stroke-opacity="1.0"/>
<circle cx="481.39" cy="220.80" r="1.7" fill="#1a9e80"/>
<line x1="451.77" y1="204.70" x2="451.77" y2="240.60" stroke="#4cbda3" stroke-width="1.5" stroke-opacity="1.0"/>
<circle cx="451.77" cy="204.70" r="1.7" fill="#1a9e80"/>
<line x1="485.62" y1="204.70" x2="485.62" y2="240.60" stroke="#4cbda3" stroke-width="1.5" stroke-opacity="1.0"/>
<circle cx="485.62" cy="204.70" r="1.7" fill="#1a9e80"/>
<line x1="447.54" y1="190.80" x2="447.54" y2="240.60" stroke="#4cbda3" stroke-width="1.5" stroke-opacity="1.0"/>
<circle cx="447.54" cy="190.80" r="1.7" fill="#1a9e80"/>
<line x1="489.86" y1="190.80" x2="489.86" y2="240.60" stroke="#4cbda3" stroke-width="1.5" stroke-opacity="1.0"/>
<circle cx="489.86" cy="190.80" r="1.7" fill="#1a9e80"/>
<line x1="397.10" y1="240.60" x2="401.0" y2="240.60" stroke="#000" stroke-width="1.3"/>
<text x="395.80" y="243.40" text-anchor="end">0.0</text>
<line x1="397.10" y1="208.60" x2="401.0" y2="208.60" stroke="#000" stroke-width="1.3"/>
<text x="395.80" y="211.40" text-anchor="end">0.1</text>
<text transform="translate(382.00,215.88) rotate(-90)" text-anchor="middle"><tspan font-style="italic">p</tspan><tspan font-size="6" dx="-3.3" dy="-3.4">~</tspan><tspan font-size="6.0" dx="0.1" dy="5.0">63, 16</tspan><tspan dy="-1.6">(</tspan><tspan font-style="italic">b</tspan><tspan font-style="italic" font-size="6.0" dy="1.4">j</tspan><tspan dy="-1.4">​</tspan><tspan>)</tspan></text>
<rect x="36.1" y="7.65" width="135.50" height="54.40" fill="none" stroke="#000" stroke-width="1.3"/>
<rect x="218.4" y="7.65" width="135.60" height="54.40" fill="none" stroke="#000" stroke-width="1.3"/>
<rect x="401.0" y="7.65" width="135.40" height="54.40" fill="none" stroke="#000" stroke-width="1.3"/>
<rect x="36.1" y="98.15" width="135.50" height="54.65" fill="none" stroke="#000" stroke-width="1.3"/>
<rect x="218.4" y="98.15" width="135.60" height="54.65" fill="none" stroke="#000" stroke-width="1.3"/>
<rect x="401.0" y="98.15" width="135.40" height="54.65" fill="none" stroke="#000" stroke-width="1.3"/>
<rect x="36.1" y="188.5" width="135.50" height="54.75" fill="none" stroke="#000" stroke-width="1.3"/>
<rect x="218.4" y="188.5" width="135.60" height="54.75" fill="none" stroke="#000" stroke-width="1.3"/>
<rect x="401.0" y="188.5" width="135.40" height="54.75" fill="none" stroke="#000" stroke-width="1.3"/>
</svg></body></html>
